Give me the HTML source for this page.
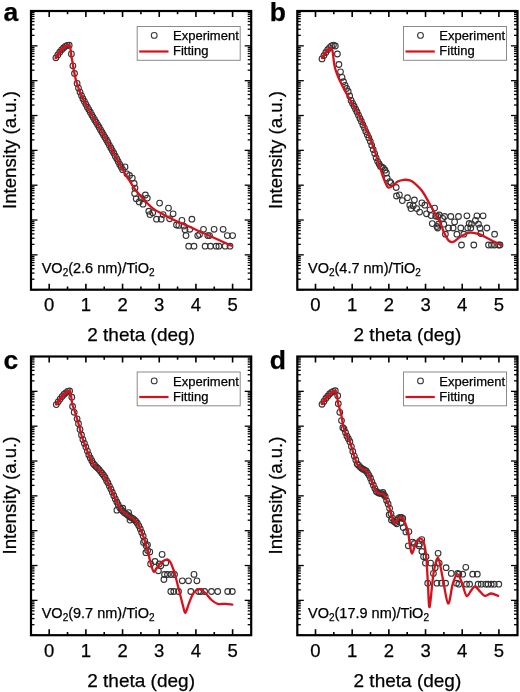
<!DOCTYPE html>
<html><head><meta charset="utf-8"><style>
html,body{margin:0;padding:0;background:#fff;}
svg{display:block;}
text{stroke:#000;stroke-width:0.25px;paint-order:stroke;}
</style></head><body>
<svg width="520" height="692" viewBox="0 0 520 692" font-family="'Liberation Sans', Arial, Helvetica, sans-serif" fill="#000">
<g transform="translate(0,0)">
<rect x="31.0" y="11.0" width="220.2" height="278.7" fill="none" stroke="#000" stroke-width="2.2"/>
<line x1="49.20" y1="289.7" x2="49.20" y2="283.7" stroke="#000" stroke-width="1.6"/>
<line x1="49.20" y1="11.0" x2="49.20" y2="17.0" stroke="#000" stroke-width="1.6"/>
<line x1="67.54" y1="289.7" x2="67.54" y2="286.5" stroke="#000" stroke-width="1.6"/>
<line x1="67.54" y1="11.0" x2="67.54" y2="14.2" stroke="#000" stroke-width="1.6"/>
<line x1="85.88" y1="289.7" x2="85.88" y2="283.7" stroke="#000" stroke-width="1.6"/>
<line x1="85.88" y1="11.0" x2="85.88" y2="17.0" stroke="#000" stroke-width="1.6"/>
<line x1="104.22" y1="289.7" x2="104.22" y2="286.5" stroke="#000" stroke-width="1.6"/>
<line x1="104.22" y1="11.0" x2="104.22" y2="14.2" stroke="#000" stroke-width="1.6"/>
<line x1="122.56" y1="289.7" x2="122.56" y2="283.7" stroke="#000" stroke-width="1.6"/>
<line x1="122.56" y1="11.0" x2="122.56" y2="17.0" stroke="#000" stroke-width="1.6"/>
<line x1="140.90" y1="289.7" x2="140.90" y2="286.5" stroke="#000" stroke-width="1.6"/>
<line x1="140.90" y1="11.0" x2="140.90" y2="14.2" stroke="#000" stroke-width="1.6"/>
<line x1="159.24" y1="289.7" x2="159.24" y2="283.7" stroke="#000" stroke-width="1.6"/>
<line x1="159.24" y1="11.0" x2="159.24" y2="17.0" stroke="#000" stroke-width="1.6"/>
<line x1="177.58" y1="289.7" x2="177.58" y2="286.5" stroke="#000" stroke-width="1.6"/>
<line x1="177.58" y1="11.0" x2="177.58" y2="14.2" stroke="#000" stroke-width="1.6"/>
<line x1="195.92" y1="289.7" x2="195.92" y2="283.7" stroke="#000" stroke-width="1.6"/>
<line x1="195.92" y1="11.0" x2="195.92" y2="17.0" stroke="#000" stroke-width="1.6"/>
<line x1="214.26" y1="289.7" x2="214.26" y2="286.5" stroke="#000" stroke-width="1.6"/>
<line x1="214.26" y1="11.0" x2="214.26" y2="14.2" stroke="#000" stroke-width="1.6"/>
<line x1="232.60" y1="289.7" x2="232.60" y2="283.7" stroke="#000" stroke-width="1.6"/>
<line x1="232.60" y1="11.0" x2="232.60" y2="17.0" stroke="#000" stroke-width="1.6"/>
<line x1="31.0" y1="289.70" x2="37.5" y2="289.70" stroke="#000" stroke-width="1.3"/>
<line x1="251.2" y1="289.70" x2="244.7" y2="289.70" stroke="#000" stroke-width="1.3"/>
<line x1="31.0" y1="279.21" x2="34.5" y2="279.21" stroke="#000" stroke-width="1.3"/>
<line x1="251.2" y1="279.21" x2="247.7" y2="279.21" stroke="#000" stroke-width="1.3"/>
<line x1="31.0" y1="273.08" x2="34.5" y2="273.08" stroke="#000" stroke-width="1.3"/>
<line x1="251.2" y1="273.08" x2="247.7" y2="273.08" stroke="#000" stroke-width="1.3"/>
<line x1="31.0" y1="268.73" x2="34.5" y2="268.73" stroke="#000" stroke-width="1.3"/>
<line x1="251.2" y1="268.73" x2="247.7" y2="268.73" stroke="#000" stroke-width="1.3"/>
<line x1="31.0" y1="265.35" x2="34.5" y2="265.35" stroke="#000" stroke-width="1.3"/>
<line x1="251.2" y1="265.35" x2="247.7" y2="265.35" stroke="#000" stroke-width="1.3"/>
<line x1="31.0" y1="262.59" x2="34.5" y2="262.59" stroke="#000" stroke-width="1.3"/>
<line x1="251.2" y1="262.59" x2="247.7" y2="262.59" stroke="#000" stroke-width="1.3"/>
<line x1="31.0" y1="260.26" x2="34.5" y2="260.26" stroke="#000" stroke-width="1.3"/>
<line x1="251.2" y1="260.26" x2="247.7" y2="260.26" stroke="#000" stroke-width="1.3"/>
<line x1="31.0" y1="258.24" x2="34.5" y2="258.24" stroke="#000" stroke-width="1.3"/>
<line x1="251.2" y1="258.24" x2="247.7" y2="258.24" stroke="#000" stroke-width="1.3"/>
<line x1="31.0" y1="256.46" x2="34.5" y2="256.46" stroke="#000" stroke-width="1.3"/>
<line x1="251.2" y1="256.46" x2="247.7" y2="256.46" stroke="#000" stroke-width="1.3"/>
<line x1="31.0" y1="254.86" x2="37.5" y2="254.86" stroke="#000" stroke-width="1.3"/>
<line x1="251.2" y1="254.86" x2="244.7" y2="254.86" stroke="#000" stroke-width="1.3"/>
<line x1="31.0" y1="244.38" x2="34.5" y2="244.38" stroke="#000" stroke-width="1.3"/>
<line x1="251.2" y1="244.38" x2="247.7" y2="244.38" stroke="#000" stroke-width="1.3"/>
<line x1="31.0" y1="238.24" x2="34.5" y2="238.24" stroke="#000" stroke-width="1.3"/>
<line x1="251.2" y1="238.24" x2="247.7" y2="238.24" stroke="#000" stroke-width="1.3"/>
<line x1="31.0" y1="233.89" x2="34.5" y2="233.89" stroke="#000" stroke-width="1.3"/>
<line x1="251.2" y1="233.89" x2="247.7" y2="233.89" stroke="#000" stroke-width="1.3"/>
<line x1="31.0" y1="230.51" x2="34.5" y2="230.51" stroke="#000" stroke-width="1.3"/>
<line x1="251.2" y1="230.51" x2="247.7" y2="230.51" stroke="#000" stroke-width="1.3"/>
<line x1="31.0" y1="227.75" x2="34.5" y2="227.75" stroke="#000" stroke-width="1.3"/>
<line x1="251.2" y1="227.75" x2="247.7" y2="227.75" stroke="#000" stroke-width="1.3"/>
<line x1="31.0" y1="225.42" x2="34.5" y2="225.42" stroke="#000" stroke-width="1.3"/>
<line x1="251.2" y1="225.42" x2="247.7" y2="225.42" stroke="#000" stroke-width="1.3"/>
<line x1="31.0" y1="223.40" x2="34.5" y2="223.40" stroke="#000" stroke-width="1.3"/>
<line x1="251.2" y1="223.40" x2="247.7" y2="223.40" stroke="#000" stroke-width="1.3"/>
<line x1="31.0" y1="221.62" x2="34.5" y2="221.62" stroke="#000" stroke-width="1.3"/>
<line x1="251.2" y1="221.62" x2="247.7" y2="221.62" stroke="#000" stroke-width="1.3"/>
<line x1="31.0" y1="220.02" x2="37.5" y2="220.02" stroke="#000" stroke-width="1.3"/>
<line x1="251.2" y1="220.02" x2="244.7" y2="220.02" stroke="#000" stroke-width="1.3"/>
<line x1="31.0" y1="209.54" x2="34.5" y2="209.54" stroke="#000" stroke-width="1.3"/>
<line x1="251.2" y1="209.54" x2="247.7" y2="209.54" stroke="#000" stroke-width="1.3"/>
<line x1="31.0" y1="203.40" x2="34.5" y2="203.40" stroke="#000" stroke-width="1.3"/>
<line x1="251.2" y1="203.40" x2="247.7" y2="203.40" stroke="#000" stroke-width="1.3"/>
<line x1="31.0" y1="199.05" x2="34.5" y2="199.05" stroke="#000" stroke-width="1.3"/>
<line x1="251.2" y1="199.05" x2="247.7" y2="199.05" stroke="#000" stroke-width="1.3"/>
<line x1="31.0" y1="195.67" x2="34.5" y2="195.67" stroke="#000" stroke-width="1.3"/>
<line x1="251.2" y1="195.67" x2="247.7" y2="195.67" stroke="#000" stroke-width="1.3"/>
<line x1="31.0" y1="192.92" x2="34.5" y2="192.92" stroke="#000" stroke-width="1.3"/>
<line x1="251.2" y1="192.92" x2="247.7" y2="192.92" stroke="#000" stroke-width="1.3"/>
<line x1="31.0" y1="190.58" x2="34.5" y2="190.58" stroke="#000" stroke-width="1.3"/>
<line x1="251.2" y1="190.58" x2="247.7" y2="190.58" stroke="#000" stroke-width="1.3"/>
<line x1="31.0" y1="188.56" x2="34.5" y2="188.56" stroke="#000" stroke-width="1.3"/>
<line x1="251.2" y1="188.56" x2="247.7" y2="188.56" stroke="#000" stroke-width="1.3"/>
<line x1="31.0" y1="186.78" x2="34.5" y2="186.78" stroke="#000" stroke-width="1.3"/>
<line x1="251.2" y1="186.78" x2="247.7" y2="186.78" stroke="#000" stroke-width="1.3"/>
<line x1="31.0" y1="185.19" x2="37.5" y2="185.19" stroke="#000" stroke-width="1.3"/>
<line x1="251.2" y1="185.19" x2="244.7" y2="185.19" stroke="#000" stroke-width="1.3"/>
<line x1="31.0" y1="174.70" x2="34.5" y2="174.70" stroke="#000" stroke-width="1.3"/>
<line x1="251.2" y1="174.70" x2="247.7" y2="174.70" stroke="#000" stroke-width="1.3"/>
<line x1="31.0" y1="168.57" x2="34.5" y2="168.57" stroke="#000" stroke-width="1.3"/>
<line x1="251.2" y1="168.57" x2="247.7" y2="168.57" stroke="#000" stroke-width="1.3"/>
<line x1="31.0" y1="164.21" x2="34.5" y2="164.21" stroke="#000" stroke-width="1.3"/>
<line x1="251.2" y1="164.21" x2="247.7" y2="164.21" stroke="#000" stroke-width="1.3"/>
<line x1="31.0" y1="160.84" x2="34.5" y2="160.84" stroke="#000" stroke-width="1.3"/>
<line x1="251.2" y1="160.84" x2="247.7" y2="160.84" stroke="#000" stroke-width="1.3"/>
<line x1="31.0" y1="158.08" x2="34.5" y2="158.08" stroke="#000" stroke-width="1.3"/>
<line x1="251.2" y1="158.08" x2="247.7" y2="158.08" stroke="#000" stroke-width="1.3"/>
<line x1="31.0" y1="155.75" x2="34.5" y2="155.75" stroke="#000" stroke-width="1.3"/>
<line x1="251.2" y1="155.75" x2="247.7" y2="155.75" stroke="#000" stroke-width="1.3"/>
<line x1="31.0" y1="153.73" x2="34.5" y2="153.73" stroke="#000" stroke-width="1.3"/>
<line x1="251.2" y1="153.73" x2="247.7" y2="153.73" stroke="#000" stroke-width="1.3"/>
<line x1="31.0" y1="151.94" x2="34.5" y2="151.94" stroke="#000" stroke-width="1.3"/>
<line x1="251.2" y1="151.94" x2="247.7" y2="151.94" stroke="#000" stroke-width="1.3"/>
<line x1="31.0" y1="150.35" x2="37.5" y2="150.35" stroke="#000" stroke-width="1.3"/>
<line x1="251.2" y1="150.35" x2="244.7" y2="150.35" stroke="#000" stroke-width="1.3"/>
<line x1="31.0" y1="139.86" x2="34.5" y2="139.86" stroke="#000" stroke-width="1.3"/>
<line x1="251.2" y1="139.86" x2="247.7" y2="139.86" stroke="#000" stroke-width="1.3"/>
<line x1="31.0" y1="133.73" x2="34.5" y2="133.73" stroke="#000" stroke-width="1.3"/>
<line x1="251.2" y1="133.73" x2="247.7" y2="133.73" stroke="#000" stroke-width="1.3"/>
<line x1="31.0" y1="129.38" x2="34.5" y2="129.38" stroke="#000" stroke-width="1.3"/>
<line x1="251.2" y1="129.38" x2="247.7" y2="129.38" stroke="#000" stroke-width="1.3"/>
<line x1="31.0" y1="126.00" x2="34.5" y2="126.00" stroke="#000" stroke-width="1.3"/>
<line x1="251.2" y1="126.00" x2="247.7" y2="126.00" stroke="#000" stroke-width="1.3"/>
<line x1="31.0" y1="123.24" x2="34.5" y2="123.24" stroke="#000" stroke-width="1.3"/>
<line x1="251.2" y1="123.24" x2="247.7" y2="123.24" stroke="#000" stroke-width="1.3"/>
<line x1="31.0" y1="120.91" x2="34.5" y2="120.91" stroke="#000" stroke-width="1.3"/>
<line x1="251.2" y1="120.91" x2="247.7" y2="120.91" stroke="#000" stroke-width="1.3"/>
<line x1="31.0" y1="118.89" x2="34.5" y2="118.89" stroke="#000" stroke-width="1.3"/>
<line x1="251.2" y1="118.89" x2="247.7" y2="118.89" stroke="#000" stroke-width="1.3"/>
<line x1="31.0" y1="117.11" x2="34.5" y2="117.11" stroke="#000" stroke-width="1.3"/>
<line x1="251.2" y1="117.11" x2="247.7" y2="117.11" stroke="#000" stroke-width="1.3"/>
<line x1="31.0" y1="115.51" x2="37.5" y2="115.51" stroke="#000" stroke-width="1.3"/>
<line x1="251.2" y1="115.51" x2="244.7" y2="115.51" stroke="#000" stroke-width="1.3"/>
<line x1="31.0" y1="105.03" x2="34.5" y2="105.03" stroke="#000" stroke-width="1.3"/>
<line x1="251.2" y1="105.03" x2="247.7" y2="105.03" stroke="#000" stroke-width="1.3"/>
<line x1="31.0" y1="98.89" x2="34.5" y2="98.89" stroke="#000" stroke-width="1.3"/>
<line x1="251.2" y1="98.89" x2="247.7" y2="98.89" stroke="#000" stroke-width="1.3"/>
<line x1="31.0" y1="94.54" x2="34.5" y2="94.54" stroke="#000" stroke-width="1.3"/>
<line x1="251.2" y1="94.54" x2="247.7" y2="94.54" stroke="#000" stroke-width="1.3"/>
<line x1="31.0" y1="91.16" x2="34.5" y2="91.16" stroke="#000" stroke-width="1.3"/>
<line x1="251.2" y1="91.16" x2="247.7" y2="91.16" stroke="#000" stroke-width="1.3"/>
<line x1="31.0" y1="88.40" x2="34.5" y2="88.40" stroke="#000" stroke-width="1.3"/>
<line x1="251.2" y1="88.40" x2="247.7" y2="88.40" stroke="#000" stroke-width="1.3"/>
<line x1="31.0" y1="86.07" x2="34.5" y2="86.07" stroke="#000" stroke-width="1.3"/>
<line x1="251.2" y1="86.07" x2="247.7" y2="86.07" stroke="#000" stroke-width="1.3"/>
<line x1="31.0" y1="84.05" x2="34.5" y2="84.05" stroke="#000" stroke-width="1.3"/>
<line x1="251.2" y1="84.05" x2="247.7" y2="84.05" stroke="#000" stroke-width="1.3"/>
<line x1="31.0" y1="82.27" x2="34.5" y2="82.27" stroke="#000" stroke-width="1.3"/>
<line x1="251.2" y1="82.27" x2="247.7" y2="82.27" stroke="#000" stroke-width="1.3"/>
<line x1="31.0" y1="80.68" x2="37.5" y2="80.68" stroke="#000" stroke-width="1.3"/>
<line x1="251.2" y1="80.68" x2="244.7" y2="80.68" stroke="#000" stroke-width="1.3"/>
<line x1="31.0" y1="70.19" x2="34.5" y2="70.19" stroke="#000" stroke-width="1.3"/>
<line x1="251.2" y1="70.19" x2="247.7" y2="70.19" stroke="#000" stroke-width="1.3"/>
<line x1="31.0" y1="64.05" x2="34.5" y2="64.05" stroke="#000" stroke-width="1.3"/>
<line x1="251.2" y1="64.05" x2="247.7" y2="64.05" stroke="#000" stroke-width="1.3"/>
<line x1="31.0" y1="59.70" x2="34.5" y2="59.70" stroke="#000" stroke-width="1.3"/>
<line x1="251.2" y1="59.70" x2="247.7" y2="59.70" stroke="#000" stroke-width="1.3"/>
<line x1="31.0" y1="56.32" x2="34.5" y2="56.32" stroke="#000" stroke-width="1.3"/>
<line x1="251.2" y1="56.32" x2="247.7" y2="56.32" stroke="#000" stroke-width="1.3"/>
<line x1="31.0" y1="53.57" x2="34.5" y2="53.57" stroke="#000" stroke-width="1.3"/>
<line x1="251.2" y1="53.57" x2="247.7" y2="53.57" stroke="#000" stroke-width="1.3"/>
<line x1="31.0" y1="51.23" x2="34.5" y2="51.23" stroke="#000" stroke-width="1.3"/>
<line x1="251.2" y1="51.23" x2="247.7" y2="51.23" stroke="#000" stroke-width="1.3"/>
<line x1="31.0" y1="49.21" x2="34.5" y2="49.21" stroke="#000" stroke-width="1.3"/>
<line x1="251.2" y1="49.21" x2="247.7" y2="49.21" stroke="#000" stroke-width="1.3"/>
<line x1="31.0" y1="47.43" x2="34.5" y2="47.43" stroke="#000" stroke-width="1.3"/>
<line x1="251.2" y1="47.43" x2="247.7" y2="47.43" stroke="#000" stroke-width="1.3"/>
<line x1="31.0" y1="45.84" x2="37.5" y2="45.84" stroke="#000" stroke-width="1.3"/>
<line x1="251.2" y1="45.84" x2="244.7" y2="45.84" stroke="#000" stroke-width="1.3"/>
<line x1="31.0" y1="35.35" x2="34.5" y2="35.35" stroke="#000" stroke-width="1.3"/>
<line x1="251.2" y1="35.35" x2="247.7" y2="35.35" stroke="#000" stroke-width="1.3"/>
<line x1="31.0" y1="29.22" x2="34.5" y2="29.22" stroke="#000" stroke-width="1.3"/>
<line x1="251.2" y1="29.22" x2="247.7" y2="29.22" stroke="#000" stroke-width="1.3"/>
<line x1="31.0" y1="24.86" x2="34.5" y2="24.86" stroke="#000" stroke-width="1.3"/>
<line x1="251.2" y1="24.86" x2="247.7" y2="24.86" stroke="#000" stroke-width="1.3"/>
<line x1="31.0" y1="21.49" x2="34.5" y2="21.49" stroke="#000" stroke-width="1.3"/>
<line x1="251.2" y1="21.49" x2="247.7" y2="21.49" stroke="#000" stroke-width="1.3"/>
<line x1="31.0" y1="18.73" x2="34.5" y2="18.73" stroke="#000" stroke-width="1.3"/>
<line x1="251.2" y1="18.73" x2="247.7" y2="18.73" stroke="#000" stroke-width="1.3"/>
<line x1="31.0" y1="16.40" x2="34.5" y2="16.40" stroke="#000" stroke-width="1.3"/>
<line x1="251.2" y1="16.40" x2="247.7" y2="16.40" stroke="#000" stroke-width="1.3"/>
<line x1="31.0" y1="14.38" x2="34.5" y2="14.38" stroke="#000" stroke-width="1.3"/>
<line x1="251.2" y1="14.38" x2="247.7" y2="14.38" stroke="#000" stroke-width="1.3"/>
<line x1="31.0" y1="12.59" x2="34.5" y2="12.59" stroke="#000" stroke-width="1.3"/>
<line x1="251.2" y1="12.59" x2="247.7" y2="12.59" stroke="#000" stroke-width="1.3"/>
<text x="49.20" y="311.3" font-size="18.5" text-anchor="middle">0</text>
<text x="85.88" y="311.3" font-size="18.5" text-anchor="middle">1</text>
<text x="122.56" y="311.3" font-size="18.5" text-anchor="middle">2</text>
<text x="159.24" y="311.3" font-size="18.5" text-anchor="middle">3</text>
<text x="195.92" y="311.3" font-size="18.5" text-anchor="middle">4</text>
<text x="232.60" y="311.3" font-size="18.5" text-anchor="middle">5</text>
<text x="141.1" y="341" font-size="19" text-anchor="middle">2 theta (deg)</text>
<text transform="translate(16,150) rotate(-90)" font-size="18.6" text-anchor="middle">Intensity (a.u.)</text>
<rect x="137.2" y="26.5" width="103" height="33.8" fill="#fff" stroke="#8a8a8a" stroke-width="1"/>
<circle cx="154.2" cy="35.4" r="2.9" fill="none" stroke="#3a3a3a" stroke-width="1.1"/>
<line x1="139.2" y1="51.5" x2="168.5" y2="51.5" stroke="#d5121c" stroke-width="2.2"/>
<text x="173" y="40" font-size="13">Experiment</text>
<text x="173" y="55.3" font-size="13">Fitting</text>
<text x="41.7" y="272.8" font-size="14.5">VO<tspan font-size="10" dy="3">2</tspan><tspan dy="-3">(2.6 nm)/TiO</tspan><tspan font-size="10" dy="3">2</tspan></text>
</g>
<g fill="none" stroke="#333" stroke-width="1.1"><circle cx="55.9" cy="57.8" r="2.85"/>
<circle cx="57.8" cy="54.9" r="2.85"/>
<circle cx="59.7" cy="52.2" r="2.85"/>
<circle cx="61.6" cy="49.8" r="2.85"/>
<circle cx="63.5" cy="48.0" r="2.85"/>
<circle cx="65.4" cy="46.3" r="2.85"/>
<circle cx="67.3" cy="45.4" r="2.85"/>
<circle cx="69.2" cy="45.2" r="2.85"/>
<circle cx="71.4" cy="53.9" r="2.85"/>
<circle cx="72.9" cy="65.8" r="2.85"/>
<circle cx="74.5" cy="73.5" r="2.85"/>
<circle cx="77.1" cy="83.4" r="2.85"/>
<circle cx="78.5" cy="88.1" r="2.85"/>
<circle cx="80.0" cy="92.1" r="2.85"/>
<circle cx="81.5" cy="95.6" r="2.85"/>
<circle cx="82.9" cy="98.7" r="2.85"/>
<circle cx="84.4" cy="101.4" r="2.85"/>
<circle cx="85.9" cy="104.3" r="2.85"/>
<circle cx="87.4" cy="107.2" r="2.85"/>
<circle cx="88.8" cy="109.6" r="2.85"/>
<circle cx="90.3" cy="112.2" r="2.85"/>
<circle cx="91.8" cy="114.9" r="2.85"/>
<circle cx="93.2" cy="117.3" r="2.85"/>
<circle cx="94.7" cy="119.9" r="2.85"/>
<circle cx="96.2" cy="122.3" r="2.85"/>
<circle cx="97.6" cy="124.8" r="2.85"/>
<circle cx="99.1" cy="127.2" r="2.85"/>
<circle cx="100.6" cy="129.9" r="2.85"/>
<circle cx="102.1" cy="132.5" r="2.85"/>
<circle cx="103.5" cy="134.9" r="2.85"/>
<circle cx="105.0" cy="137.5" r="2.85"/>
<circle cx="106.5" cy="140.0" r="2.85"/>
<circle cx="107.9" cy="142.4" r="2.85"/>
<circle cx="109.4" cy="145.3" r="2.85"/>
<circle cx="110.9" cy="148.0" r="2.85"/>
<circle cx="112.3" cy="150.6" r="2.85"/>
<circle cx="113.8" cy="153.2" r="2.85"/>
<circle cx="115.3" cy="156.2" r="2.85"/>
<circle cx="116.8" cy="158.8" r="2.85"/>
<circle cx="118.2" cy="161.6" r="2.85"/>
<circle cx="119.7" cy="164.4" r="2.85"/>
<circle cx="121.2" cy="167.0" r="2.85"/>
<circle cx="122.6" cy="169.7" r="2.85"/>
<circle cx="125.0" cy="166.9" r="2.85"/>
<circle cx="126.9" cy="173.8" r="2.85"/>
<circle cx="129.5" cy="175.5" r="2.85"/>
<circle cx="132.3" cy="178.1" r="2.85"/>
<circle cx="134.2" cy="183.5" r="2.85"/>
<circle cx="135.0" cy="188.1" r="2.85"/>
<circle cx="134.6" cy="193.5" r="2.85"/>
<circle cx="136.2" cy="198.8" r="2.85"/>
<circle cx="139.2" cy="201.9" r="2.85"/>
<circle cx="145.4" cy="195.0" r="2.85"/>
<circle cx="147.3" cy="198.1" r="2.85"/>
<circle cx="143.0" cy="204.2" r="2.85"/>
<circle cx="141.0" cy="198.0" r="2.85"/>
<circle cx="159.6" cy="203.1" r="2.85"/>
<circle cx="148.8" cy="211.2" r="2.85"/>
<circle cx="150.0" cy="214.6" r="2.85"/>
<circle cx="152.7" cy="212.7" r="2.85"/>
<circle cx="156.5" cy="219.2" r="2.85"/>
<circle cx="161.2" cy="219.2" r="2.85"/>
<circle cx="168.5" cy="208.1" r="2.85"/>
<circle cx="173.1" cy="213.8" r="2.85"/>
<circle cx="169.6" cy="218.8" r="2.85"/>
<circle cx="176.5" cy="225.0" r="2.85"/>
<circle cx="178.8" cy="225.4" r="2.85"/>
<circle cx="181.9" cy="220.4" r="2.85"/>
<circle cx="163.1" cy="214.6" r="2.85"/>
<circle cx="183.8" cy="226.1" r="2.85"/>
<circle cx="191.9" cy="219.2" r="2.85"/>
<circle cx="185.0" cy="229.8" r="2.85"/>
<circle cx="188.7" cy="246.2" r="2.85"/>
<circle cx="194.0" cy="246.2" r="2.85"/>
<circle cx="205.1" cy="246.2" r="2.85"/>
<circle cx="210.4" cy="246.2" r="2.85"/>
<circle cx="216.2" cy="246.2" r="2.85"/>
<circle cx="218.9" cy="246.2" r="2.85"/>
<circle cx="225.2" cy="246.2" r="2.85"/>
<circle cx="230.0" cy="246.2" r="2.85"/>
<circle cx="186.0" cy="235.6" r="2.85"/>
<circle cx="197.7" cy="235.6" r="2.85"/>
<circle cx="207.8" cy="235.6" r="2.85"/>
<circle cx="227.3" cy="235.6" r="2.85"/>
<circle cx="232.6" cy="235.6" r="2.85"/>
<circle cx="209.5" cy="235.6" r="2.85"/>
<circle cx="199.5" cy="234.6" r="2.85"/>
<circle cx="189.8" cy="229.3" r="2.85"/>
<circle cx="203.5" cy="229.3" r="2.85"/>
<circle cx="214.1" cy="229.3" r="2.85"/>
<circle cx="223.1" cy="229.3" r="2.85"/></g>
<path fill="none" stroke="#d5121c" stroke-width="2.3" stroke-linejoin="round" stroke-linecap="round" d="M55.90,57.80 C56.40,57.03 57.85,54.65 58.90,53.20 C59.95,51.75 61.12,50.25 62.20,49.10 C63.28,47.95 64.40,46.95 65.40,46.30 C66.40,45.65 67.50,45.25 68.20,45.20 C68.90,45.15 69.18,45.20 69.60,46.00 C70.02,46.80 70.40,48.25 70.70,50.00 C71.00,51.75 71.10,54.50 71.40,56.50 C71.70,58.50 72.10,59.75 72.50,62.00 C72.90,64.25 73.23,67.00 73.80,70.00 C74.37,73.00 75.27,77.50 75.90,80.00 C76.53,82.50 77.07,83.33 77.60,85.00 C78.13,86.67 78.50,88.33 79.10,90.00 C79.70,91.67 80.45,93.33 81.20,95.00 C81.95,96.67 82.77,98.33 83.60,100.00 C84.43,101.67 85.30,103.33 86.20,105.00 C87.10,106.67 88.05,108.33 89.00,110.00 C89.95,111.67 90.93,113.33 91.90,115.00 C92.87,116.67 93.82,118.33 94.80,120.00 C95.78,121.67 96.82,123.33 97.80,125.00 C98.78,126.67 99.73,128.33 100.70,130.00 C101.67,131.67 102.63,133.33 103.60,135.00 C104.57,136.67 105.55,138.33 106.50,140.00 C107.45,141.67 108.38,143.33 109.30,145.00 C110.22,146.67 111.10,148.33 112.00,150.00 C112.90,151.67 113.80,153.33 114.70,155.00 C115.60,156.67 116.50,158.33 117.40,160.00 C118.30,161.67 119.18,163.33 120.10,165.00 C121.02,166.67 121.93,168.33 122.90,170.00 C123.87,171.67 124.88,173.33 125.90,175.00 C126.92,176.67 127.93,178.33 129.00,180.00 C130.07,181.67 131.43,183.63 132.30,185.00 C133.17,186.37 133.07,186.65 134.20,188.20 C135.33,189.75 137.37,192.25 139.10,194.30 C140.83,196.35 142.65,198.45 144.60,200.50 C146.55,202.55 149.07,205.03 150.80,206.60 C152.53,208.17 152.97,208.63 155.00,209.90 C157.03,211.17 160.33,212.77 163.00,214.20 C165.67,215.63 168.33,217.17 171.00,218.50 C173.67,219.83 176.33,221.03 179.00,222.20 C181.67,223.37 183.50,223.95 187.00,225.50 C190.50,227.05 195.33,229.37 200.00,231.50 C204.67,233.63 209.73,235.93 215.00,238.30 C220.27,240.67 228.83,244.47 231.60,245.70"/>
<path fill="none" stroke="#d5121c" stroke-width="3.0" stroke-linejoin="round" stroke-linecap="round" d="M55.90,57.80 C56.40,57.03 57.85,54.65 58.90,53.20 C59.95,51.75 61.12,50.25 62.20,49.10 C63.28,47.95 64.40,46.95 65.40,46.30 C66.40,45.65 67.73,45.38 68.20,45.20"/>
<text x="3.5" y="20.8" font-size="26.5" font-weight="bold">a</text>
<g transform="translate(266.3,0)">
<rect x="31.0" y="11.0" width="220.2" height="278.7" fill="none" stroke="#000" stroke-width="2.2"/>
<line x1="49.20" y1="289.7" x2="49.20" y2="283.7" stroke="#000" stroke-width="1.6"/>
<line x1="49.20" y1="11.0" x2="49.20" y2="17.0" stroke="#000" stroke-width="1.6"/>
<line x1="67.54" y1="289.7" x2="67.54" y2="286.5" stroke="#000" stroke-width="1.6"/>
<line x1="67.54" y1="11.0" x2="67.54" y2="14.2" stroke="#000" stroke-width="1.6"/>
<line x1="85.88" y1="289.7" x2="85.88" y2="283.7" stroke="#000" stroke-width="1.6"/>
<line x1="85.88" y1="11.0" x2="85.88" y2="17.0" stroke="#000" stroke-width="1.6"/>
<line x1="104.22" y1="289.7" x2="104.22" y2="286.5" stroke="#000" stroke-width="1.6"/>
<line x1="104.22" y1="11.0" x2="104.22" y2="14.2" stroke="#000" stroke-width="1.6"/>
<line x1="122.56" y1="289.7" x2="122.56" y2="283.7" stroke="#000" stroke-width="1.6"/>
<line x1="122.56" y1="11.0" x2="122.56" y2="17.0" stroke="#000" stroke-width="1.6"/>
<line x1="140.90" y1="289.7" x2="140.90" y2="286.5" stroke="#000" stroke-width="1.6"/>
<line x1="140.90" y1="11.0" x2="140.90" y2="14.2" stroke="#000" stroke-width="1.6"/>
<line x1="159.24" y1="289.7" x2="159.24" y2="283.7" stroke="#000" stroke-width="1.6"/>
<line x1="159.24" y1="11.0" x2="159.24" y2="17.0" stroke="#000" stroke-width="1.6"/>
<line x1="177.58" y1="289.7" x2="177.58" y2="286.5" stroke="#000" stroke-width="1.6"/>
<line x1="177.58" y1="11.0" x2="177.58" y2="14.2" stroke="#000" stroke-width="1.6"/>
<line x1="195.92" y1="289.7" x2="195.92" y2="283.7" stroke="#000" stroke-width="1.6"/>
<line x1="195.92" y1="11.0" x2="195.92" y2="17.0" stroke="#000" stroke-width="1.6"/>
<line x1="214.26" y1="289.7" x2="214.26" y2="286.5" stroke="#000" stroke-width="1.6"/>
<line x1="214.26" y1="11.0" x2="214.26" y2="14.2" stroke="#000" stroke-width="1.6"/>
<line x1="232.60" y1="289.7" x2="232.60" y2="283.7" stroke="#000" stroke-width="1.6"/>
<line x1="232.60" y1="11.0" x2="232.60" y2="17.0" stroke="#000" stroke-width="1.6"/>
<line x1="31.0" y1="289.70" x2="37.5" y2="289.70" stroke="#000" stroke-width="1.3"/>
<line x1="251.2" y1="289.70" x2="244.7" y2="289.70" stroke="#000" stroke-width="1.3"/>
<line x1="31.0" y1="279.21" x2="34.5" y2="279.21" stroke="#000" stroke-width="1.3"/>
<line x1="251.2" y1="279.21" x2="247.7" y2="279.21" stroke="#000" stroke-width="1.3"/>
<line x1="31.0" y1="273.08" x2="34.5" y2="273.08" stroke="#000" stroke-width="1.3"/>
<line x1="251.2" y1="273.08" x2="247.7" y2="273.08" stroke="#000" stroke-width="1.3"/>
<line x1="31.0" y1="268.73" x2="34.5" y2="268.73" stroke="#000" stroke-width="1.3"/>
<line x1="251.2" y1="268.73" x2="247.7" y2="268.73" stroke="#000" stroke-width="1.3"/>
<line x1="31.0" y1="265.35" x2="34.5" y2="265.35" stroke="#000" stroke-width="1.3"/>
<line x1="251.2" y1="265.35" x2="247.7" y2="265.35" stroke="#000" stroke-width="1.3"/>
<line x1="31.0" y1="262.59" x2="34.5" y2="262.59" stroke="#000" stroke-width="1.3"/>
<line x1="251.2" y1="262.59" x2="247.7" y2="262.59" stroke="#000" stroke-width="1.3"/>
<line x1="31.0" y1="260.26" x2="34.5" y2="260.26" stroke="#000" stroke-width="1.3"/>
<line x1="251.2" y1="260.26" x2="247.7" y2="260.26" stroke="#000" stroke-width="1.3"/>
<line x1="31.0" y1="258.24" x2="34.5" y2="258.24" stroke="#000" stroke-width="1.3"/>
<line x1="251.2" y1="258.24" x2="247.7" y2="258.24" stroke="#000" stroke-width="1.3"/>
<line x1="31.0" y1="256.46" x2="34.5" y2="256.46" stroke="#000" stroke-width="1.3"/>
<line x1="251.2" y1="256.46" x2="247.7" y2="256.46" stroke="#000" stroke-width="1.3"/>
<line x1="31.0" y1="254.86" x2="37.5" y2="254.86" stroke="#000" stroke-width="1.3"/>
<line x1="251.2" y1="254.86" x2="244.7" y2="254.86" stroke="#000" stroke-width="1.3"/>
<line x1="31.0" y1="244.38" x2="34.5" y2="244.38" stroke="#000" stroke-width="1.3"/>
<line x1="251.2" y1="244.38" x2="247.7" y2="244.38" stroke="#000" stroke-width="1.3"/>
<line x1="31.0" y1="238.24" x2="34.5" y2="238.24" stroke="#000" stroke-width="1.3"/>
<line x1="251.2" y1="238.24" x2="247.7" y2="238.24" stroke="#000" stroke-width="1.3"/>
<line x1="31.0" y1="233.89" x2="34.5" y2="233.89" stroke="#000" stroke-width="1.3"/>
<line x1="251.2" y1="233.89" x2="247.7" y2="233.89" stroke="#000" stroke-width="1.3"/>
<line x1="31.0" y1="230.51" x2="34.5" y2="230.51" stroke="#000" stroke-width="1.3"/>
<line x1="251.2" y1="230.51" x2="247.7" y2="230.51" stroke="#000" stroke-width="1.3"/>
<line x1="31.0" y1="227.75" x2="34.5" y2="227.75" stroke="#000" stroke-width="1.3"/>
<line x1="251.2" y1="227.75" x2="247.7" y2="227.75" stroke="#000" stroke-width="1.3"/>
<line x1="31.0" y1="225.42" x2="34.5" y2="225.42" stroke="#000" stroke-width="1.3"/>
<line x1="251.2" y1="225.42" x2="247.7" y2="225.42" stroke="#000" stroke-width="1.3"/>
<line x1="31.0" y1="223.40" x2="34.5" y2="223.40" stroke="#000" stroke-width="1.3"/>
<line x1="251.2" y1="223.40" x2="247.7" y2="223.40" stroke="#000" stroke-width="1.3"/>
<line x1="31.0" y1="221.62" x2="34.5" y2="221.62" stroke="#000" stroke-width="1.3"/>
<line x1="251.2" y1="221.62" x2="247.7" y2="221.62" stroke="#000" stroke-width="1.3"/>
<line x1="31.0" y1="220.02" x2="37.5" y2="220.02" stroke="#000" stroke-width="1.3"/>
<line x1="251.2" y1="220.02" x2="244.7" y2="220.02" stroke="#000" stroke-width="1.3"/>
<line x1="31.0" y1="209.54" x2="34.5" y2="209.54" stroke="#000" stroke-width="1.3"/>
<line x1="251.2" y1="209.54" x2="247.7" y2="209.54" stroke="#000" stroke-width="1.3"/>
<line x1="31.0" y1="203.40" x2="34.5" y2="203.40" stroke="#000" stroke-width="1.3"/>
<line x1="251.2" y1="203.40" x2="247.7" y2="203.40" stroke="#000" stroke-width="1.3"/>
<line x1="31.0" y1="199.05" x2="34.5" y2="199.05" stroke="#000" stroke-width="1.3"/>
<line x1="251.2" y1="199.05" x2="247.7" y2="199.05" stroke="#000" stroke-width="1.3"/>
<line x1="31.0" y1="195.67" x2="34.5" y2="195.67" stroke="#000" stroke-width="1.3"/>
<line x1="251.2" y1="195.67" x2="247.7" y2="195.67" stroke="#000" stroke-width="1.3"/>
<line x1="31.0" y1="192.92" x2="34.5" y2="192.92" stroke="#000" stroke-width="1.3"/>
<line x1="251.2" y1="192.92" x2="247.7" y2="192.92" stroke="#000" stroke-width="1.3"/>
<line x1="31.0" y1="190.58" x2="34.5" y2="190.58" stroke="#000" stroke-width="1.3"/>
<line x1="251.2" y1="190.58" x2="247.7" y2="190.58" stroke="#000" stroke-width="1.3"/>
<line x1="31.0" y1="188.56" x2="34.5" y2="188.56" stroke="#000" stroke-width="1.3"/>
<line x1="251.2" y1="188.56" x2="247.7" y2="188.56" stroke="#000" stroke-width="1.3"/>
<line x1="31.0" y1="186.78" x2="34.5" y2="186.78" stroke="#000" stroke-width="1.3"/>
<line x1="251.2" y1="186.78" x2="247.7" y2="186.78" stroke="#000" stroke-width="1.3"/>
<line x1="31.0" y1="185.19" x2="37.5" y2="185.19" stroke="#000" stroke-width="1.3"/>
<line x1="251.2" y1="185.19" x2="244.7" y2="185.19" stroke="#000" stroke-width="1.3"/>
<line x1="31.0" y1="174.70" x2="34.5" y2="174.70" stroke="#000" stroke-width="1.3"/>
<line x1="251.2" y1="174.70" x2="247.7" y2="174.70" stroke="#000" stroke-width="1.3"/>
<line x1="31.0" y1="168.57" x2="34.5" y2="168.57" stroke="#000" stroke-width="1.3"/>
<line x1="251.2" y1="168.57" x2="247.7" y2="168.57" stroke="#000" stroke-width="1.3"/>
<line x1="31.0" y1="164.21" x2="34.5" y2="164.21" stroke="#000" stroke-width="1.3"/>
<line x1="251.2" y1="164.21" x2="247.7" y2="164.21" stroke="#000" stroke-width="1.3"/>
<line x1="31.0" y1="160.84" x2="34.5" y2="160.84" stroke="#000" stroke-width="1.3"/>
<line x1="251.2" y1="160.84" x2="247.7" y2="160.84" stroke="#000" stroke-width="1.3"/>
<line x1="31.0" y1="158.08" x2="34.5" y2="158.08" stroke="#000" stroke-width="1.3"/>
<line x1="251.2" y1="158.08" x2="247.7" y2="158.08" stroke="#000" stroke-width="1.3"/>
<line x1="31.0" y1="155.75" x2="34.5" y2="155.75" stroke="#000" stroke-width="1.3"/>
<line x1="251.2" y1="155.75" x2="247.7" y2="155.75" stroke="#000" stroke-width="1.3"/>
<line x1="31.0" y1="153.73" x2="34.5" y2="153.73" stroke="#000" stroke-width="1.3"/>
<line x1="251.2" y1="153.73" x2="247.7" y2="153.73" stroke="#000" stroke-width="1.3"/>
<line x1="31.0" y1="151.94" x2="34.5" y2="151.94" stroke="#000" stroke-width="1.3"/>
<line x1="251.2" y1="151.94" x2="247.7" y2="151.94" stroke="#000" stroke-width="1.3"/>
<line x1="31.0" y1="150.35" x2="37.5" y2="150.35" stroke="#000" stroke-width="1.3"/>
<line x1="251.2" y1="150.35" x2="244.7" y2="150.35" stroke="#000" stroke-width="1.3"/>
<line x1="31.0" y1="139.86" x2="34.5" y2="139.86" stroke="#000" stroke-width="1.3"/>
<line x1="251.2" y1="139.86" x2="247.7" y2="139.86" stroke="#000" stroke-width="1.3"/>
<line x1="31.0" y1="133.73" x2="34.5" y2="133.73" stroke="#000" stroke-width="1.3"/>
<line x1="251.2" y1="133.73" x2="247.7" y2="133.73" stroke="#000" stroke-width="1.3"/>
<line x1="31.0" y1="129.38" x2="34.5" y2="129.38" stroke="#000" stroke-width="1.3"/>
<line x1="251.2" y1="129.38" x2="247.7" y2="129.38" stroke="#000" stroke-width="1.3"/>
<line x1="31.0" y1="126.00" x2="34.5" y2="126.00" stroke="#000" stroke-width="1.3"/>
<line x1="251.2" y1="126.00" x2="247.7" y2="126.00" stroke="#000" stroke-width="1.3"/>
<line x1="31.0" y1="123.24" x2="34.5" y2="123.24" stroke="#000" stroke-width="1.3"/>
<line x1="251.2" y1="123.24" x2="247.7" y2="123.24" stroke="#000" stroke-width="1.3"/>
<line x1="31.0" y1="120.91" x2="34.5" y2="120.91" stroke="#000" stroke-width="1.3"/>
<line x1="251.2" y1="120.91" x2="247.7" y2="120.91" stroke="#000" stroke-width="1.3"/>
<line x1="31.0" y1="118.89" x2="34.5" y2="118.89" stroke="#000" stroke-width="1.3"/>
<line x1="251.2" y1="118.89" x2="247.7" y2="118.89" stroke="#000" stroke-width="1.3"/>
<line x1="31.0" y1="117.11" x2="34.5" y2="117.11" stroke="#000" stroke-width="1.3"/>
<line x1="251.2" y1="117.11" x2="247.7" y2="117.11" stroke="#000" stroke-width="1.3"/>
<line x1="31.0" y1="115.51" x2="37.5" y2="115.51" stroke="#000" stroke-width="1.3"/>
<line x1="251.2" y1="115.51" x2="244.7" y2="115.51" stroke="#000" stroke-width="1.3"/>
<line x1="31.0" y1="105.03" x2="34.5" y2="105.03" stroke="#000" stroke-width="1.3"/>
<line x1="251.2" y1="105.03" x2="247.7" y2="105.03" stroke="#000" stroke-width="1.3"/>
<line x1="31.0" y1="98.89" x2="34.5" y2="98.89" stroke="#000" stroke-width="1.3"/>
<line x1="251.2" y1="98.89" x2="247.7" y2="98.89" stroke="#000" stroke-width="1.3"/>
<line x1="31.0" y1="94.54" x2="34.5" y2="94.54" stroke="#000" stroke-width="1.3"/>
<line x1="251.2" y1="94.54" x2="247.7" y2="94.54" stroke="#000" stroke-width="1.3"/>
<line x1="31.0" y1="91.16" x2="34.5" y2="91.16" stroke="#000" stroke-width="1.3"/>
<line x1="251.2" y1="91.16" x2="247.7" y2="91.16" stroke="#000" stroke-width="1.3"/>
<line x1="31.0" y1="88.40" x2="34.5" y2="88.40" stroke="#000" stroke-width="1.3"/>
<line x1="251.2" y1="88.40" x2="247.7" y2="88.40" stroke="#000" stroke-width="1.3"/>
<line x1="31.0" y1="86.07" x2="34.5" y2="86.07" stroke="#000" stroke-width="1.3"/>
<line x1="251.2" y1="86.07" x2="247.7" y2="86.07" stroke="#000" stroke-width="1.3"/>
<line x1="31.0" y1="84.05" x2="34.5" y2="84.05" stroke="#000" stroke-width="1.3"/>
<line x1="251.2" y1="84.05" x2="247.7" y2="84.05" stroke="#000" stroke-width="1.3"/>
<line x1="31.0" y1="82.27" x2="34.5" y2="82.27" stroke="#000" stroke-width="1.3"/>
<line x1="251.2" y1="82.27" x2="247.7" y2="82.27" stroke="#000" stroke-width="1.3"/>
<line x1="31.0" y1="80.68" x2="37.5" y2="80.68" stroke="#000" stroke-width="1.3"/>
<line x1="251.2" y1="80.68" x2="244.7" y2="80.68" stroke="#000" stroke-width="1.3"/>
<line x1="31.0" y1="70.19" x2="34.5" y2="70.19" stroke="#000" stroke-width="1.3"/>
<line x1="251.2" y1="70.19" x2="247.7" y2="70.19" stroke="#000" stroke-width="1.3"/>
<line x1="31.0" y1="64.05" x2="34.5" y2="64.05" stroke="#000" stroke-width="1.3"/>
<line x1="251.2" y1="64.05" x2="247.7" y2="64.05" stroke="#000" stroke-width="1.3"/>
<line x1="31.0" y1="59.70" x2="34.5" y2="59.70" stroke="#000" stroke-width="1.3"/>
<line x1="251.2" y1="59.70" x2="247.7" y2="59.70" stroke="#000" stroke-width="1.3"/>
<line x1="31.0" y1="56.32" x2="34.5" y2="56.32" stroke="#000" stroke-width="1.3"/>
<line x1="251.2" y1="56.32" x2="247.7" y2="56.32" stroke="#000" stroke-width="1.3"/>
<line x1="31.0" y1="53.57" x2="34.5" y2="53.57" stroke="#000" stroke-width="1.3"/>
<line x1="251.2" y1="53.57" x2="247.7" y2="53.57" stroke="#000" stroke-width="1.3"/>
<line x1="31.0" y1="51.23" x2="34.5" y2="51.23" stroke="#000" stroke-width="1.3"/>
<line x1="251.2" y1="51.23" x2="247.7" y2="51.23" stroke="#000" stroke-width="1.3"/>
<line x1="31.0" y1="49.21" x2="34.5" y2="49.21" stroke="#000" stroke-width="1.3"/>
<line x1="251.2" y1="49.21" x2="247.7" y2="49.21" stroke="#000" stroke-width="1.3"/>
<line x1="31.0" y1="47.43" x2="34.5" y2="47.43" stroke="#000" stroke-width="1.3"/>
<line x1="251.2" y1="47.43" x2="247.7" y2="47.43" stroke="#000" stroke-width="1.3"/>
<line x1="31.0" y1="45.84" x2="37.5" y2="45.84" stroke="#000" stroke-width="1.3"/>
<line x1="251.2" y1="45.84" x2="244.7" y2="45.84" stroke="#000" stroke-width="1.3"/>
<line x1="31.0" y1="35.35" x2="34.5" y2="35.35" stroke="#000" stroke-width="1.3"/>
<line x1="251.2" y1="35.35" x2="247.7" y2="35.35" stroke="#000" stroke-width="1.3"/>
<line x1="31.0" y1="29.22" x2="34.5" y2="29.22" stroke="#000" stroke-width="1.3"/>
<line x1="251.2" y1="29.22" x2="247.7" y2="29.22" stroke="#000" stroke-width="1.3"/>
<line x1="31.0" y1="24.86" x2="34.5" y2="24.86" stroke="#000" stroke-width="1.3"/>
<line x1="251.2" y1="24.86" x2="247.7" y2="24.86" stroke="#000" stroke-width="1.3"/>
<line x1="31.0" y1="21.49" x2="34.5" y2="21.49" stroke="#000" stroke-width="1.3"/>
<line x1="251.2" y1="21.49" x2="247.7" y2="21.49" stroke="#000" stroke-width="1.3"/>
<line x1="31.0" y1="18.73" x2="34.5" y2="18.73" stroke="#000" stroke-width="1.3"/>
<line x1="251.2" y1="18.73" x2="247.7" y2="18.73" stroke="#000" stroke-width="1.3"/>
<line x1="31.0" y1="16.40" x2="34.5" y2="16.40" stroke="#000" stroke-width="1.3"/>
<line x1="251.2" y1="16.40" x2="247.7" y2="16.40" stroke="#000" stroke-width="1.3"/>
<line x1="31.0" y1="14.38" x2="34.5" y2="14.38" stroke="#000" stroke-width="1.3"/>
<line x1="251.2" y1="14.38" x2="247.7" y2="14.38" stroke="#000" stroke-width="1.3"/>
<line x1="31.0" y1="12.59" x2="34.5" y2="12.59" stroke="#000" stroke-width="1.3"/>
<line x1="251.2" y1="12.59" x2="247.7" y2="12.59" stroke="#000" stroke-width="1.3"/>
<text x="49.20" y="311.3" font-size="18.5" text-anchor="middle">0</text>
<text x="85.88" y="311.3" font-size="18.5" text-anchor="middle">1</text>
<text x="122.56" y="311.3" font-size="18.5" text-anchor="middle">2</text>
<text x="159.24" y="311.3" font-size="18.5" text-anchor="middle">3</text>
<text x="195.92" y="311.3" font-size="18.5" text-anchor="middle">4</text>
<text x="232.60" y="311.3" font-size="18.5" text-anchor="middle">5</text>
<text x="141.1" y="341" font-size="19" text-anchor="middle">2 theta (deg)</text>
<text transform="translate(16,150) rotate(-90)" font-size="18.6" text-anchor="middle">Intensity (a.u.)</text>
<rect x="137.2" y="26.5" width="103" height="33.8" fill="#fff" stroke="#8a8a8a" stroke-width="1"/>
<circle cx="154.2" cy="35.4" r="2.9" fill="none" stroke="#3a3a3a" stroke-width="1.1"/>
<line x1="139.2" y1="51.5" x2="168.5" y2="51.5" stroke="#d5121c" stroke-width="2.2"/>
<text x="173" y="40" font-size="13">Experiment</text>
<text x="173" y="55.3" font-size="13">Fitting</text>
<text x="41.7" y="272.8" font-size="14.5">VO<tspan font-size="10" dy="3">2</tspan><tspan dy="-3">(4.7 nm)/TiO</tspan><tspan font-size="10" dy="3">2</tspan></text>
</g>
<g fill="none" stroke="#333" stroke-width="1.1"><circle cx="322.0" cy="58.9" r="2.85"/>
<circle cx="323.9" cy="55.6" r="2.85"/>
<circle cx="325.8" cy="52.5" r="2.85"/>
<circle cx="327.7" cy="49.7" r="2.85"/>
<circle cx="329.6" cy="47.6" r="2.85"/>
<circle cx="331.5" cy="45.9" r="2.85"/>
<circle cx="333.4" cy="45.1" r="2.85"/>
<circle cx="335.3" cy="46.0" r="2.85"/>
<circle cx="337.4" cy="54.0" r="2.85"/>
<circle cx="338.9" cy="64.5" r="2.85"/>
<circle cx="340.5" cy="71.8" r="2.85"/>
<circle cx="342.0" cy="77.4" r="2.85"/>
<circle cx="343.5" cy="81.7" r="2.85"/>
<circle cx="345.1" cy="85.4" r="2.85"/>
<circle cx="346.6" cy="88.5" r="2.85"/>
<circle cx="348.2" cy="91.5" r="2.85"/>
<circle cx="349.7" cy="96.0" r="2.85"/>
<circle cx="351.1" cy="100.4" r="2.85"/>
<circle cx="352.6" cy="103.4" r="2.85"/>
<circle cx="354.1" cy="106.2" r="2.85"/>
<circle cx="355.6" cy="109.2" r="2.85"/>
<circle cx="357.0" cy="112.0" r="2.85"/>
<circle cx="358.5" cy="115.2" r="2.85"/>
<circle cx="360.0" cy="118.4" r="2.85"/>
<circle cx="361.4" cy="121.5" r="2.85"/>
<circle cx="362.9" cy="125.0" r="2.85"/>
<circle cx="364.4" cy="128.1" r="2.85"/>
<circle cx="365.8" cy="131.6" r="2.85"/>
<circle cx="367.3" cy="134.7" r="2.85"/>
<circle cx="368.8" cy="137.9" r="2.85"/>
<circle cx="370.3" cy="141.3" r="2.85"/>
<circle cx="371.7" cy="145.3" r="2.85"/>
<circle cx="373.2" cy="149.6" r="2.85"/>
<circle cx="374.7" cy="153.6" r="2.85"/>
<circle cx="376.1" cy="157.8" r="2.85"/>
<circle cx="377.6" cy="161.3" r="2.85"/>
<circle cx="379.1" cy="164.0" r="2.85"/>
<circle cx="380.5" cy="166.4" r="2.85"/>
<circle cx="382.0" cy="167.1" r="2.85"/>
<circle cx="383.5" cy="168.1" r="2.85"/>
<circle cx="385.0" cy="170.2" r="2.85"/>
<circle cx="386.4" cy="173.0" r="2.85"/>
<circle cx="387.2" cy="178.2" r="2.85"/>
<circle cx="389.7" cy="181.6" r="2.85"/>
<circle cx="390.9" cy="182.8" r="2.85"/>
<circle cx="396.2" cy="187.5" r="2.85"/>
<circle cx="396.5" cy="196.0" r="2.85"/>
<circle cx="399.4" cy="194.8" r="2.85"/>
<circle cx="407.5" cy="197.7" r="2.85"/>
<circle cx="402.3" cy="200.6" r="2.85"/>
<circle cx="409.8" cy="205.2" r="2.85"/>
<circle cx="411.0" cy="208.6" r="2.85"/>
<circle cx="414.4" cy="200.0" r="2.85"/>
<circle cx="413.3" cy="205.8" r="2.85"/>
<circle cx="416.7" cy="208.6" r="2.85"/>
<circle cx="419.6" cy="212.1" r="2.85"/>
<circle cx="421.9" cy="202.9" r="2.85"/>
<circle cx="424.8" cy="205.2" r="2.85"/>
<circle cx="426.5" cy="213.8" r="2.85"/>
<circle cx="430.0" cy="209.8" r="2.85"/>
<circle cx="431.1" cy="215.6" r="2.85"/>
<circle cx="434.6" cy="208.1" r="2.85"/>
<circle cx="435.7" cy="216.1" r="2.85"/>
<circle cx="432.3" cy="223.6" r="2.85"/>
<circle cx="436.9" cy="226.5" r="2.85"/>
<circle cx="442.7" cy="218.4" r="2.85"/>
<circle cx="439.2" cy="215.0" r="2.85"/>
<circle cx="437.7" cy="216.5" r="2.85"/>
<circle cx="444.6" cy="216.5" r="2.85"/>
<circle cx="450.8" cy="216.5" r="2.85"/>
<circle cx="458.5" cy="216.5" r="2.85"/>
<circle cx="466.9" cy="215.8" r="2.85"/>
<circle cx="476.9" cy="215.8" r="2.85"/>
<circle cx="483.1" cy="215.8" r="2.85"/>
<circle cx="438.5" cy="224.2" r="2.85"/>
<circle cx="443.8" cy="224.2" r="2.85"/>
<circle cx="454.6" cy="221.9" r="2.85"/>
<circle cx="469.2" cy="223.5" r="2.85"/>
<circle cx="471.5" cy="224.2" r="2.85"/>
<circle cx="475.4" cy="220.4" r="2.85"/>
<circle cx="478.5" cy="224.2" r="2.85"/>
<circle cx="437.7" cy="228.0" r="2.85"/>
<circle cx="448.5" cy="228.0" r="2.85"/>
<circle cx="453.1" cy="228.0" r="2.85"/>
<circle cx="460.8" cy="228.0" r="2.85"/>
<circle cx="467.7" cy="228.0" r="2.85"/>
<circle cx="470.8" cy="228.0" r="2.85"/>
<circle cx="480.0" cy="228.0" r="2.85"/>
<circle cx="486.9" cy="228.0" r="2.85"/>
<circle cx="445.4" cy="234.2" r="2.85"/>
<circle cx="456.9" cy="234.2" r="2.85"/>
<circle cx="463.8" cy="234.2" r="2.85"/>
<circle cx="480.8" cy="233.5" r="2.85"/>
<circle cx="494.6" cy="234.2" r="2.85"/>
<circle cx="461.5" cy="245.0" r="2.85"/>
<circle cx="473.8" cy="245.0" r="2.85"/>
<circle cx="488.5" cy="245.0" r="2.85"/>
<circle cx="491.5" cy="245.0" r="2.85"/>
<circle cx="494.6" cy="245.0" r="2.85"/>
<circle cx="498.5" cy="245.0" r="2.85"/>
<circle cx="500.0" cy="245.0" r="2.85"/></g>
<path fill="none" stroke="#d5121c" stroke-width="2.3" stroke-linejoin="round" stroke-linecap="round" d="M322.30,57.70 C322.92,56.78 324.97,53.52 326.00,52.20 C327.03,50.88 327.78,50.42 328.50,49.80 C329.22,49.18 329.85,48.75 330.30,48.50 C330.75,48.25 330.88,48.05 331.20,48.30 C331.52,48.55 331.93,49.25 332.20,50.00 C332.47,50.75 332.55,51.13 332.80,52.80 C333.05,54.47 333.43,57.97 333.70,60.00 C333.97,62.03 334.08,63.33 334.40,65.00 C334.72,66.67 335.10,68.33 335.60,70.00 C336.10,71.67 336.75,73.33 337.40,75.00 C338.05,76.67 338.73,78.33 339.50,80.00 C340.27,81.67 341.15,83.33 342.00,85.00 C342.85,86.67 343.70,88.33 344.60,90.00 C345.50,91.67 346.45,93.33 347.40,95.00 C348.35,96.67 349.33,98.33 350.30,100.00 C351.27,101.67 352.23,103.33 353.20,105.00 C354.17,106.67 355.15,108.33 356.10,110.00 C357.05,111.67 358.00,113.33 358.90,115.00 C359.80,116.67 360.63,118.33 361.50,120.00 C362.37,121.67 363.28,123.33 364.10,125.00 C364.92,126.67 365.63,128.33 366.40,130.00 C367.17,131.67 367.98,133.33 368.70,135.00 C369.42,136.67 370.05,138.33 370.70,140.00 C371.35,141.67 371.98,143.33 372.60,145.00 C373.22,146.67 373.83,148.33 374.40,150.00 C374.97,151.67 375.47,153.33 376.00,155.00 C376.53,156.67 377.07,158.33 377.60,160.00 C378.13,161.67 378.67,163.33 379.20,165.00 C379.73,166.67 380.27,168.33 380.80,170.00 C381.33,171.67 381.82,173.33 382.40,175.00 C382.98,176.67 383.67,178.42 384.30,180.00 C384.93,181.58 385.50,183.23 386.20,184.50 C386.90,185.77 387.40,187.37 388.50,187.60 C389.60,187.83 391.27,186.90 392.80,185.90 C394.33,184.90 395.87,182.62 397.70,181.60 C399.53,180.58 401.75,180.00 403.80,179.80 C405.85,179.60 408.33,179.92 410.00,180.40 C411.67,180.88 411.82,180.97 413.80,182.70 C415.78,184.43 419.40,187.53 421.90,190.80 C424.40,194.07 426.68,198.65 428.80,202.30 C430.92,205.95 432.67,209.25 434.60,212.70 C436.53,216.15 438.87,219.80 440.40,223.00 C441.93,226.20 442.45,229.00 443.80,231.90 C445.15,234.80 446.95,238.73 448.50,240.40 C450.05,242.07 451.05,242.55 453.10,241.90 C455.15,241.25 457.98,238.03 460.80,236.50 C463.62,234.97 466.93,233.08 470.00,232.70 C473.07,232.32 476.12,233.18 479.20,234.20 C482.28,235.22 484.90,237.00 488.50,238.80 C492.10,240.60 498.75,243.97 500.80,245.00"/>
<path fill="none" stroke="#d5121c" stroke-width="3.0" stroke-linejoin="round" stroke-linecap="round" d="M322.30,57.70 C322.92,56.78 324.97,53.52 326.00,52.20 C327.03,50.88 327.78,50.42 328.50,49.80 C329.22,49.18 329.85,48.75 330.30,48.50 C330.75,48.25 331.05,48.33 331.20,48.30"/>
<text x="269.8" y="20.8" font-size="26.5" font-weight="bold">b</text>
<g transform="translate(0,345.5)">
<rect x="31.0" y="11.0" width="220.2" height="278.7" fill="none" stroke="#000" stroke-width="2.2"/>
<line x1="49.20" y1="289.7" x2="49.20" y2="283.7" stroke="#000" stroke-width="1.6"/>
<line x1="49.20" y1="11.0" x2="49.20" y2="17.0" stroke="#000" stroke-width="1.6"/>
<line x1="67.54" y1="289.7" x2="67.54" y2="286.5" stroke="#000" stroke-width="1.6"/>
<line x1="67.54" y1="11.0" x2="67.54" y2="14.2" stroke="#000" stroke-width="1.6"/>
<line x1="85.88" y1="289.7" x2="85.88" y2="283.7" stroke="#000" stroke-width="1.6"/>
<line x1="85.88" y1="11.0" x2="85.88" y2="17.0" stroke="#000" stroke-width="1.6"/>
<line x1="104.22" y1="289.7" x2="104.22" y2="286.5" stroke="#000" stroke-width="1.6"/>
<line x1="104.22" y1="11.0" x2="104.22" y2="14.2" stroke="#000" stroke-width="1.6"/>
<line x1="122.56" y1="289.7" x2="122.56" y2="283.7" stroke="#000" stroke-width="1.6"/>
<line x1="122.56" y1="11.0" x2="122.56" y2="17.0" stroke="#000" stroke-width="1.6"/>
<line x1="140.90" y1="289.7" x2="140.90" y2="286.5" stroke="#000" stroke-width="1.6"/>
<line x1="140.90" y1="11.0" x2="140.90" y2="14.2" stroke="#000" stroke-width="1.6"/>
<line x1="159.24" y1="289.7" x2="159.24" y2="283.7" stroke="#000" stroke-width="1.6"/>
<line x1="159.24" y1="11.0" x2="159.24" y2="17.0" stroke="#000" stroke-width="1.6"/>
<line x1="177.58" y1="289.7" x2="177.58" y2="286.5" stroke="#000" stroke-width="1.6"/>
<line x1="177.58" y1="11.0" x2="177.58" y2="14.2" stroke="#000" stroke-width="1.6"/>
<line x1="195.92" y1="289.7" x2="195.92" y2="283.7" stroke="#000" stroke-width="1.6"/>
<line x1="195.92" y1="11.0" x2="195.92" y2="17.0" stroke="#000" stroke-width="1.6"/>
<line x1="214.26" y1="289.7" x2="214.26" y2="286.5" stroke="#000" stroke-width="1.6"/>
<line x1="214.26" y1="11.0" x2="214.26" y2="14.2" stroke="#000" stroke-width="1.6"/>
<line x1="232.60" y1="289.7" x2="232.60" y2="283.7" stroke="#000" stroke-width="1.6"/>
<line x1="232.60" y1="11.0" x2="232.60" y2="17.0" stroke="#000" stroke-width="1.6"/>
<line x1="31.0" y1="289.70" x2="37.5" y2="289.70" stroke="#000" stroke-width="1.3"/>
<line x1="251.2" y1="289.70" x2="244.7" y2="289.70" stroke="#000" stroke-width="1.3"/>
<line x1="31.0" y1="279.21" x2="34.5" y2="279.21" stroke="#000" stroke-width="1.3"/>
<line x1="251.2" y1="279.21" x2="247.7" y2="279.21" stroke="#000" stroke-width="1.3"/>
<line x1="31.0" y1="273.08" x2="34.5" y2="273.08" stroke="#000" stroke-width="1.3"/>
<line x1="251.2" y1="273.08" x2="247.7" y2="273.08" stroke="#000" stroke-width="1.3"/>
<line x1="31.0" y1="268.73" x2="34.5" y2="268.73" stroke="#000" stroke-width="1.3"/>
<line x1="251.2" y1="268.73" x2="247.7" y2="268.73" stroke="#000" stroke-width="1.3"/>
<line x1="31.0" y1="265.35" x2="34.5" y2="265.35" stroke="#000" stroke-width="1.3"/>
<line x1="251.2" y1="265.35" x2="247.7" y2="265.35" stroke="#000" stroke-width="1.3"/>
<line x1="31.0" y1="262.59" x2="34.5" y2="262.59" stroke="#000" stroke-width="1.3"/>
<line x1="251.2" y1="262.59" x2="247.7" y2="262.59" stroke="#000" stroke-width="1.3"/>
<line x1="31.0" y1="260.26" x2="34.5" y2="260.26" stroke="#000" stroke-width="1.3"/>
<line x1="251.2" y1="260.26" x2="247.7" y2="260.26" stroke="#000" stroke-width="1.3"/>
<line x1="31.0" y1="258.24" x2="34.5" y2="258.24" stroke="#000" stroke-width="1.3"/>
<line x1="251.2" y1="258.24" x2="247.7" y2="258.24" stroke="#000" stroke-width="1.3"/>
<line x1="31.0" y1="256.46" x2="34.5" y2="256.46" stroke="#000" stroke-width="1.3"/>
<line x1="251.2" y1="256.46" x2="247.7" y2="256.46" stroke="#000" stroke-width="1.3"/>
<line x1="31.0" y1="254.86" x2="37.5" y2="254.86" stroke="#000" stroke-width="1.3"/>
<line x1="251.2" y1="254.86" x2="244.7" y2="254.86" stroke="#000" stroke-width="1.3"/>
<line x1="31.0" y1="244.38" x2="34.5" y2="244.38" stroke="#000" stroke-width="1.3"/>
<line x1="251.2" y1="244.38" x2="247.7" y2="244.38" stroke="#000" stroke-width="1.3"/>
<line x1="31.0" y1="238.24" x2="34.5" y2="238.24" stroke="#000" stroke-width="1.3"/>
<line x1="251.2" y1="238.24" x2="247.7" y2="238.24" stroke="#000" stroke-width="1.3"/>
<line x1="31.0" y1="233.89" x2="34.5" y2="233.89" stroke="#000" stroke-width="1.3"/>
<line x1="251.2" y1="233.89" x2="247.7" y2="233.89" stroke="#000" stroke-width="1.3"/>
<line x1="31.0" y1="230.51" x2="34.5" y2="230.51" stroke="#000" stroke-width="1.3"/>
<line x1="251.2" y1="230.51" x2="247.7" y2="230.51" stroke="#000" stroke-width="1.3"/>
<line x1="31.0" y1="227.75" x2="34.5" y2="227.75" stroke="#000" stroke-width="1.3"/>
<line x1="251.2" y1="227.75" x2="247.7" y2="227.75" stroke="#000" stroke-width="1.3"/>
<line x1="31.0" y1="225.42" x2="34.5" y2="225.42" stroke="#000" stroke-width="1.3"/>
<line x1="251.2" y1="225.42" x2="247.7" y2="225.42" stroke="#000" stroke-width="1.3"/>
<line x1="31.0" y1="223.40" x2="34.5" y2="223.40" stroke="#000" stroke-width="1.3"/>
<line x1="251.2" y1="223.40" x2="247.7" y2="223.40" stroke="#000" stroke-width="1.3"/>
<line x1="31.0" y1="221.62" x2="34.5" y2="221.62" stroke="#000" stroke-width="1.3"/>
<line x1="251.2" y1="221.62" x2="247.7" y2="221.62" stroke="#000" stroke-width="1.3"/>
<line x1="31.0" y1="220.02" x2="37.5" y2="220.02" stroke="#000" stroke-width="1.3"/>
<line x1="251.2" y1="220.02" x2="244.7" y2="220.02" stroke="#000" stroke-width="1.3"/>
<line x1="31.0" y1="209.54" x2="34.5" y2="209.54" stroke="#000" stroke-width="1.3"/>
<line x1="251.2" y1="209.54" x2="247.7" y2="209.54" stroke="#000" stroke-width="1.3"/>
<line x1="31.0" y1="203.40" x2="34.5" y2="203.40" stroke="#000" stroke-width="1.3"/>
<line x1="251.2" y1="203.40" x2="247.7" y2="203.40" stroke="#000" stroke-width="1.3"/>
<line x1="31.0" y1="199.05" x2="34.5" y2="199.05" stroke="#000" stroke-width="1.3"/>
<line x1="251.2" y1="199.05" x2="247.7" y2="199.05" stroke="#000" stroke-width="1.3"/>
<line x1="31.0" y1="195.67" x2="34.5" y2="195.67" stroke="#000" stroke-width="1.3"/>
<line x1="251.2" y1="195.67" x2="247.7" y2="195.67" stroke="#000" stroke-width="1.3"/>
<line x1="31.0" y1="192.92" x2="34.5" y2="192.92" stroke="#000" stroke-width="1.3"/>
<line x1="251.2" y1="192.92" x2="247.7" y2="192.92" stroke="#000" stroke-width="1.3"/>
<line x1="31.0" y1="190.58" x2="34.5" y2="190.58" stroke="#000" stroke-width="1.3"/>
<line x1="251.2" y1="190.58" x2="247.7" y2="190.58" stroke="#000" stroke-width="1.3"/>
<line x1="31.0" y1="188.56" x2="34.5" y2="188.56" stroke="#000" stroke-width="1.3"/>
<line x1="251.2" y1="188.56" x2="247.7" y2="188.56" stroke="#000" stroke-width="1.3"/>
<line x1="31.0" y1="186.78" x2="34.5" y2="186.78" stroke="#000" stroke-width="1.3"/>
<line x1="251.2" y1="186.78" x2="247.7" y2="186.78" stroke="#000" stroke-width="1.3"/>
<line x1="31.0" y1="185.19" x2="37.5" y2="185.19" stroke="#000" stroke-width="1.3"/>
<line x1="251.2" y1="185.19" x2="244.7" y2="185.19" stroke="#000" stroke-width="1.3"/>
<line x1="31.0" y1="174.70" x2="34.5" y2="174.70" stroke="#000" stroke-width="1.3"/>
<line x1="251.2" y1="174.70" x2="247.7" y2="174.70" stroke="#000" stroke-width="1.3"/>
<line x1="31.0" y1="168.57" x2="34.5" y2="168.57" stroke="#000" stroke-width="1.3"/>
<line x1="251.2" y1="168.57" x2="247.7" y2="168.57" stroke="#000" stroke-width="1.3"/>
<line x1="31.0" y1="164.21" x2="34.5" y2="164.21" stroke="#000" stroke-width="1.3"/>
<line x1="251.2" y1="164.21" x2="247.7" y2="164.21" stroke="#000" stroke-width="1.3"/>
<line x1="31.0" y1="160.84" x2="34.5" y2="160.84" stroke="#000" stroke-width="1.3"/>
<line x1="251.2" y1="160.84" x2="247.7" y2="160.84" stroke="#000" stroke-width="1.3"/>
<line x1="31.0" y1="158.08" x2="34.5" y2="158.08" stroke="#000" stroke-width="1.3"/>
<line x1="251.2" y1="158.08" x2="247.7" y2="158.08" stroke="#000" stroke-width="1.3"/>
<line x1="31.0" y1="155.75" x2="34.5" y2="155.75" stroke="#000" stroke-width="1.3"/>
<line x1="251.2" y1="155.75" x2="247.7" y2="155.75" stroke="#000" stroke-width="1.3"/>
<line x1="31.0" y1="153.73" x2="34.5" y2="153.73" stroke="#000" stroke-width="1.3"/>
<line x1="251.2" y1="153.73" x2="247.7" y2="153.73" stroke="#000" stroke-width="1.3"/>
<line x1="31.0" y1="151.94" x2="34.5" y2="151.94" stroke="#000" stroke-width="1.3"/>
<line x1="251.2" y1="151.94" x2="247.7" y2="151.94" stroke="#000" stroke-width="1.3"/>
<line x1="31.0" y1="150.35" x2="37.5" y2="150.35" stroke="#000" stroke-width="1.3"/>
<line x1="251.2" y1="150.35" x2="244.7" y2="150.35" stroke="#000" stroke-width="1.3"/>
<line x1="31.0" y1="139.86" x2="34.5" y2="139.86" stroke="#000" stroke-width="1.3"/>
<line x1="251.2" y1="139.86" x2="247.7" y2="139.86" stroke="#000" stroke-width="1.3"/>
<line x1="31.0" y1="133.73" x2="34.5" y2="133.73" stroke="#000" stroke-width="1.3"/>
<line x1="251.2" y1="133.73" x2="247.7" y2="133.73" stroke="#000" stroke-width="1.3"/>
<line x1="31.0" y1="129.38" x2="34.5" y2="129.38" stroke="#000" stroke-width="1.3"/>
<line x1="251.2" y1="129.38" x2="247.7" y2="129.38" stroke="#000" stroke-width="1.3"/>
<line x1="31.0" y1="126.00" x2="34.5" y2="126.00" stroke="#000" stroke-width="1.3"/>
<line x1="251.2" y1="126.00" x2="247.7" y2="126.00" stroke="#000" stroke-width="1.3"/>
<line x1="31.0" y1="123.24" x2="34.5" y2="123.24" stroke="#000" stroke-width="1.3"/>
<line x1="251.2" y1="123.24" x2="247.7" y2="123.24" stroke="#000" stroke-width="1.3"/>
<line x1="31.0" y1="120.91" x2="34.5" y2="120.91" stroke="#000" stroke-width="1.3"/>
<line x1="251.2" y1="120.91" x2="247.7" y2="120.91" stroke="#000" stroke-width="1.3"/>
<line x1="31.0" y1="118.89" x2="34.5" y2="118.89" stroke="#000" stroke-width="1.3"/>
<line x1="251.2" y1="118.89" x2="247.7" y2="118.89" stroke="#000" stroke-width="1.3"/>
<line x1="31.0" y1="117.11" x2="34.5" y2="117.11" stroke="#000" stroke-width="1.3"/>
<line x1="251.2" y1="117.11" x2="247.7" y2="117.11" stroke="#000" stroke-width="1.3"/>
<line x1="31.0" y1="115.51" x2="37.5" y2="115.51" stroke="#000" stroke-width="1.3"/>
<line x1="251.2" y1="115.51" x2="244.7" y2="115.51" stroke="#000" stroke-width="1.3"/>
<line x1="31.0" y1="105.03" x2="34.5" y2="105.03" stroke="#000" stroke-width="1.3"/>
<line x1="251.2" y1="105.03" x2="247.7" y2="105.03" stroke="#000" stroke-width="1.3"/>
<line x1="31.0" y1="98.89" x2="34.5" y2="98.89" stroke="#000" stroke-width="1.3"/>
<line x1="251.2" y1="98.89" x2="247.7" y2="98.89" stroke="#000" stroke-width="1.3"/>
<line x1="31.0" y1="94.54" x2="34.5" y2="94.54" stroke="#000" stroke-width="1.3"/>
<line x1="251.2" y1="94.54" x2="247.7" y2="94.54" stroke="#000" stroke-width="1.3"/>
<line x1="31.0" y1="91.16" x2="34.5" y2="91.16" stroke="#000" stroke-width="1.3"/>
<line x1="251.2" y1="91.16" x2="247.7" y2="91.16" stroke="#000" stroke-width="1.3"/>
<line x1="31.0" y1="88.40" x2="34.5" y2="88.40" stroke="#000" stroke-width="1.3"/>
<line x1="251.2" y1="88.40" x2="247.7" y2="88.40" stroke="#000" stroke-width="1.3"/>
<line x1="31.0" y1="86.07" x2="34.5" y2="86.07" stroke="#000" stroke-width="1.3"/>
<line x1="251.2" y1="86.07" x2="247.7" y2="86.07" stroke="#000" stroke-width="1.3"/>
<line x1="31.0" y1="84.05" x2="34.5" y2="84.05" stroke="#000" stroke-width="1.3"/>
<line x1="251.2" y1="84.05" x2="247.7" y2="84.05" stroke="#000" stroke-width="1.3"/>
<line x1="31.0" y1="82.27" x2="34.5" y2="82.27" stroke="#000" stroke-width="1.3"/>
<line x1="251.2" y1="82.27" x2="247.7" y2="82.27" stroke="#000" stroke-width="1.3"/>
<line x1="31.0" y1="80.68" x2="37.5" y2="80.68" stroke="#000" stroke-width="1.3"/>
<line x1="251.2" y1="80.68" x2="244.7" y2="80.68" stroke="#000" stroke-width="1.3"/>
<line x1="31.0" y1="70.19" x2="34.5" y2="70.19" stroke="#000" stroke-width="1.3"/>
<line x1="251.2" y1="70.19" x2="247.7" y2="70.19" stroke="#000" stroke-width="1.3"/>
<line x1="31.0" y1="64.05" x2="34.5" y2="64.05" stroke="#000" stroke-width="1.3"/>
<line x1="251.2" y1="64.05" x2="247.7" y2="64.05" stroke="#000" stroke-width="1.3"/>
<line x1="31.0" y1="59.70" x2="34.5" y2="59.70" stroke="#000" stroke-width="1.3"/>
<line x1="251.2" y1="59.70" x2="247.7" y2="59.70" stroke="#000" stroke-width="1.3"/>
<line x1="31.0" y1="56.32" x2="34.5" y2="56.32" stroke="#000" stroke-width="1.3"/>
<line x1="251.2" y1="56.32" x2="247.7" y2="56.32" stroke="#000" stroke-width="1.3"/>
<line x1="31.0" y1="53.57" x2="34.5" y2="53.57" stroke="#000" stroke-width="1.3"/>
<line x1="251.2" y1="53.57" x2="247.7" y2="53.57" stroke="#000" stroke-width="1.3"/>
<line x1="31.0" y1="51.23" x2="34.5" y2="51.23" stroke="#000" stroke-width="1.3"/>
<line x1="251.2" y1="51.23" x2="247.7" y2="51.23" stroke="#000" stroke-width="1.3"/>
<line x1="31.0" y1="49.21" x2="34.5" y2="49.21" stroke="#000" stroke-width="1.3"/>
<line x1="251.2" y1="49.21" x2="247.7" y2="49.21" stroke="#000" stroke-width="1.3"/>
<line x1="31.0" y1="47.43" x2="34.5" y2="47.43" stroke="#000" stroke-width="1.3"/>
<line x1="251.2" y1="47.43" x2="247.7" y2="47.43" stroke="#000" stroke-width="1.3"/>
<line x1="31.0" y1="45.84" x2="37.5" y2="45.84" stroke="#000" stroke-width="1.3"/>
<line x1="251.2" y1="45.84" x2="244.7" y2="45.84" stroke="#000" stroke-width="1.3"/>
<line x1="31.0" y1="35.35" x2="34.5" y2="35.35" stroke="#000" stroke-width="1.3"/>
<line x1="251.2" y1="35.35" x2="247.7" y2="35.35" stroke="#000" stroke-width="1.3"/>
<line x1="31.0" y1="29.22" x2="34.5" y2="29.22" stroke="#000" stroke-width="1.3"/>
<line x1="251.2" y1="29.22" x2="247.7" y2="29.22" stroke="#000" stroke-width="1.3"/>
<line x1="31.0" y1="24.86" x2="34.5" y2="24.86" stroke="#000" stroke-width="1.3"/>
<line x1="251.2" y1="24.86" x2="247.7" y2="24.86" stroke="#000" stroke-width="1.3"/>
<line x1="31.0" y1="21.49" x2="34.5" y2="21.49" stroke="#000" stroke-width="1.3"/>
<line x1="251.2" y1="21.49" x2="247.7" y2="21.49" stroke="#000" stroke-width="1.3"/>
<line x1="31.0" y1="18.73" x2="34.5" y2="18.73" stroke="#000" stroke-width="1.3"/>
<line x1="251.2" y1="18.73" x2="247.7" y2="18.73" stroke="#000" stroke-width="1.3"/>
<line x1="31.0" y1="16.40" x2="34.5" y2="16.40" stroke="#000" stroke-width="1.3"/>
<line x1="251.2" y1="16.40" x2="247.7" y2="16.40" stroke="#000" stroke-width="1.3"/>
<line x1="31.0" y1="14.38" x2="34.5" y2="14.38" stroke="#000" stroke-width="1.3"/>
<line x1="251.2" y1="14.38" x2="247.7" y2="14.38" stroke="#000" stroke-width="1.3"/>
<line x1="31.0" y1="12.59" x2="34.5" y2="12.59" stroke="#000" stroke-width="1.3"/>
<line x1="251.2" y1="12.59" x2="247.7" y2="12.59" stroke="#000" stroke-width="1.3"/>
<text x="49.20" y="311.3" font-size="18.5" text-anchor="middle">0</text>
<text x="85.88" y="311.3" font-size="18.5" text-anchor="middle">1</text>
<text x="122.56" y="311.3" font-size="18.5" text-anchor="middle">2</text>
<text x="159.24" y="311.3" font-size="18.5" text-anchor="middle">3</text>
<text x="195.92" y="311.3" font-size="18.5" text-anchor="middle">4</text>
<text x="232.60" y="311.3" font-size="18.5" text-anchor="middle">5</text>
<text x="141.1" y="341" font-size="19" text-anchor="middle">2 theta (deg)</text>
<text transform="translate(16,150) rotate(-90)" font-size="18.6" text-anchor="middle">Intensity (a.u.)</text>
<rect x="137.2" y="26.5" width="103" height="33.8" fill="#fff" stroke="#8a8a8a" stroke-width="1"/>
<circle cx="154.2" cy="35.4" r="2.9" fill="none" stroke="#3a3a3a" stroke-width="1.1"/>
<line x1="139.2" y1="51.5" x2="168.5" y2="51.5" stroke="#d5121c" stroke-width="2.2"/>
<text x="173" y="40" font-size="13">Experiment</text>
<text x="173" y="55.3" font-size="13">Fitting</text>
<text x="41.7" y="272.8" font-size="14.5">VO<tspan font-size="10" dy="3">2</tspan><tspan dy="-3">(9.7 nm)/TiO</tspan><tspan font-size="10" dy="3">2</tspan></text>
</g>
<g fill="none" stroke="#333" stroke-width="1.1"><circle cx="56.3" cy="404.6" r="2.85"/>
<circle cx="58.2" cy="401.8" r="2.85"/>
<circle cx="60.1" cy="399.1" r="2.85"/>
<circle cx="62.0" cy="396.6" r="2.85"/>
<circle cx="63.9" cy="394.4" r="2.85"/>
<circle cx="65.8" cy="392.8" r="2.85"/>
<circle cx="67.7" cy="391.3" r="2.85"/>
<circle cx="69.6" cy="391.0" r="2.85"/>
<circle cx="71.8" cy="397.2" r="2.85"/>
<circle cx="72.6" cy="406.5" r="2.85"/>
<circle cx="74.2" cy="412.3" r="2.85"/>
<circle cx="77.1" cy="418.8" r="2.85"/>
<circle cx="78.5" cy="423.7" r="2.85"/>
<circle cx="80.0" cy="429.5" r="2.85"/>
<circle cx="81.5" cy="435.0" r="2.85"/>
<circle cx="82.9" cy="439.6" r="2.85"/>
<circle cx="84.4" cy="443.4" r="2.85"/>
<circle cx="85.9" cy="447.1" r="2.85"/>
<circle cx="87.4" cy="451.1" r="2.85"/>
<circle cx="88.8" cy="454.9" r="2.85"/>
<circle cx="90.3" cy="458.0" r="2.85"/>
<circle cx="91.8" cy="460.7" r="2.85"/>
<circle cx="93.2" cy="463.4" r="2.85"/>
<circle cx="94.7" cy="465.2" r="2.85"/>
<circle cx="96.2" cy="466.8" r="2.85"/>
<circle cx="97.6" cy="468.1" r="2.85"/>
<circle cx="99.1" cy="469.6" r="2.85"/>
<circle cx="100.6" cy="471.6" r="2.85"/>
<circle cx="102.1" cy="473.5" r="2.85"/>
<circle cx="103.5" cy="475.2" r="2.85"/>
<circle cx="105.0" cy="477.5" r="2.85"/>
<circle cx="106.5" cy="480.4" r="2.85"/>
<circle cx="107.9" cy="482.8" r="2.85"/>
<circle cx="109.4" cy="486.1" r="2.85"/>
<circle cx="110.9" cy="489.1" r="2.85"/>
<circle cx="112.3" cy="492.3" r="2.85"/>
<circle cx="113.8" cy="495.7" r="2.85"/>
<circle cx="115.3" cy="498.9" r="2.85"/>
<circle cx="116.8" cy="502.0" r="2.85"/>
<circle cx="118.2" cy="504.7" r="2.85"/>
<circle cx="119.7" cy="507.7" r="2.85"/>
<circle cx="121.2" cy="509.5" r="2.85"/>
<circle cx="122.6" cy="510.9" r="2.85"/>
<circle cx="124.1" cy="512.4" r="2.85"/>
<circle cx="125.6" cy="513.6" r="2.85"/>
<circle cx="127.0" cy="514.6" r="2.85"/>
<circle cx="128.5" cy="515.7" r="2.85"/>
<circle cx="130.0" cy="516.9" r="2.85"/>
<circle cx="131.5" cy="517.8" r="2.85"/>
<circle cx="132.9" cy="518.6" r="2.85"/>
<circle cx="134.4" cy="519.9" r="2.85"/>
<circle cx="135.9" cy="521.3" r="2.85"/>
<circle cx="137.3" cy="523.2" r="2.85"/>
<circle cx="138.8" cy="525.8" r="2.85"/>
<circle cx="140.3" cy="528.9" r="2.85"/>
<circle cx="141.7" cy="532.4" r="2.85"/>
<circle cx="143.2" cy="536.1" r="2.85"/>
<circle cx="144.7" cy="540.8" r="2.85"/>
<circle cx="146.2" cy="545.8" r="2.85"/>
<circle cx="147.6" cy="550.6" r="2.85"/>
<circle cx="116.9" cy="510.2" r="2.85"/>
<circle cx="122.8" cy="508.2" r="2.85"/>
<circle cx="128.6" cy="512.6" r="2.85"/>
<circle cx="130.0" cy="520.1" r="2.85"/>
<circle cx="143.5" cy="542.4" r="2.85"/>
<circle cx="147.5" cy="544.8" r="2.85"/>
<circle cx="145.9" cy="552.7" r="2.85"/>
<circle cx="149.8" cy="551.9" r="2.85"/>
<circle cx="162.1" cy="554.4" r="2.85"/>
<circle cx="150.6" cy="564.0" r="2.85"/>
<circle cx="155.0" cy="561.5" r="2.85"/>
<circle cx="159.2" cy="564.0" r="2.85"/>
<circle cx="158.4" cy="570.8" r="2.85"/>
<circle cx="160.8" cy="565.8" r="2.85"/>
<circle cx="165.8" cy="562.8" r="2.85"/>
<circle cx="164.5" cy="574.5" r="2.85"/>
<circle cx="167.5" cy="574.5" r="2.85"/>
<circle cx="171.0" cy="574.5" r="2.85"/>
<circle cx="174.5" cy="574.5" r="2.85"/>
<circle cx="163.9" cy="579.5" r="2.85"/>
<circle cx="194.0" cy="574.4" r="2.85"/>
<circle cx="182.3" cy="580.8" r="2.85"/>
<circle cx="188.5" cy="580.8" r="2.85"/>
<circle cx="196.9" cy="580.8" r="2.85"/>
<circle cx="170.8" cy="591.5" r="2.85"/>
<circle cx="173.8" cy="591.5" r="2.85"/>
<circle cx="178.5" cy="591.5" r="2.85"/>
<circle cx="190.8" cy="591.5" r="2.85"/>
<circle cx="198.5" cy="591.5" r="2.85"/>
<circle cx="200.8" cy="591.5" r="2.85"/>
<circle cx="204.6" cy="591.5" r="2.85"/>
<circle cx="211.5" cy="591.5" r="2.85"/>
<circle cx="217.7" cy="591.5" r="2.85"/>
<circle cx="227.7" cy="591.5" r="2.85"/>
<circle cx="232.3" cy="591.5" r="2.85"/></g>
<path fill="none" stroke="#d5121c" stroke-width="2.3" stroke-linejoin="round" stroke-linecap="round" d="M56.30,404.00 C56.82,403.33 58.27,401.48 59.40,400.00 C60.53,398.52 61.77,396.50 63.10,395.10 C64.43,393.70 66.28,392.25 67.40,391.60 C68.52,390.95 69.18,390.42 69.80,391.20 C70.42,391.98 70.68,394.12 71.10,396.30 C71.52,398.48 71.77,402.02 72.30,404.30 C72.83,406.58 73.55,407.72 74.30,410.00 C75.05,412.28 75.98,415.33 76.80,418.00 C77.62,420.67 78.48,423.33 79.20,426.00 C79.92,428.67 80.45,431.67 81.10,434.00 C81.75,436.33 82.25,437.67 83.10,440.00 C83.95,442.33 85.18,445.33 86.20,448.00 C87.22,450.67 87.98,453.33 89.20,456.00 C90.42,458.67 91.83,461.70 93.50,464.00 C95.17,466.30 97.42,467.80 99.20,469.80 C100.98,471.80 102.65,473.63 104.20,476.00 C105.75,478.37 107.17,481.33 108.50,484.00 C109.83,486.67 111.23,489.83 112.20,492.00 C113.17,494.17 113.52,495.30 114.30,497.00 C115.08,498.70 115.95,500.32 116.90,502.20 C117.85,504.08 118.67,506.47 120.00,508.30 C121.33,510.13 123.23,511.77 124.90,513.20 C126.57,514.63 128.57,515.93 130.00,516.90 C131.43,517.87 132.45,518.20 133.50,519.00 C134.55,519.80 135.47,520.70 136.30,521.70 C137.13,522.70 137.83,523.80 138.50,525.00 C139.17,526.20 139.47,526.93 140.30,528.90 C141.13,530.87 142.57,534.15 143.50,536.80 C144.43,539.45 145.10,542.15 145.90,544.80 C146.70,547.45 147.65,550.18 148.30,552.70 C148.95,555.22 149.25,557.60 149.80,559.90 C150.35,562.20 150.93,564.52 151.60,566.50 C152.27,568.48 152.98,571.50 153.80,571.80 C154.62,572.10 155.33,569.80 156.50,568.30 C157.67,566.80 159.35,564.18 160.80,562.80 C162.25,561.42 163.97,560.52 165.20,560.00 C166.43,559.48 167.28,559.23 168.20,559.70 C169.12,560.17 169.87,561.27 170.70,562.80 C171.53,564.33 172.48,566.95 173.20,568.90 C173.92,570.85 174.00,570.85 175.00,574.50 C176.00,578.15 177.85,585.52 179.20,590.80 C180.55,596.08 182.07,602.53 183.10,606.20 C184.13,609.87 184.50,613.07 185.40,612.80 C186.30,612.53 187.22,607.77 188.50,604.60 C189.78,601.43 191.32,596.37 193.10,593.80 C194.88,591.23 197.15,589.32 199.20,589.20 C201.25,589.08 203.35,591.30 205.40,593.10 C207.45,594.90 209.45,598.22 211.50,600.00 C213.55,601.78 215.38,603.17 217.70,603.80 C220.02,604.43 222.97,603.67 225.40,603.80 C227.83,603.93 231.15,604.47 232.30,604.60"/>
<path fill="none" stroke="#d5121c" stroke-width="3.0" stroke-linejoin="round" stroke-linecap="round" d="M56.30,404.00 C56.82,403.33 58.27,401.48 59.40,400.00 C60.53,398.52 61.77,396.50 63.10,395.10 C64.43,393.70 66.28,392.25 67.40,391.60 C68.52,390.95 69.40,391.27 69.80,391.20"/>
<text x="3.5" y="368.8" font-size="26.5" font-weight="bold">c</text>
<g transform="translate(266.3,345.5)">
<rect x="31.0" y="11.0" width="220.2" height="278.7" fill="none" stroke="#000" stroke-width="2.2"/>
<line x1="49.20" y1="289.7" x2="49.20" y2="283.7" stroke="#000" stroke-width="1.6"/>
<line x1="49.20" y1="11.0" x2="49.20" y2="17.0" stroke="#000" stroke-width="1.6"/>
<line x1="67.54" y1="289.7" x2="67.54" y2="286.5" stroke="#000" stroke-width="1.6"/>
<line x1="67.54" y1="11.0" x2="67.54" y2="14.2" stroke="#000" stroke-width="1.6"/>
<line x1="85.88" y1="289.7" x2="85.88" y2="283.7" stroke="#000" stroke-width="1.6"/>
<line x1="85.88" y1="11.0" x2="85.88" y2="17.0" stroke="#000" stroke-width="1.6"/>
<line x1="104.22" y1="289.7" x2="104.22" y2="286.5" stroke="#000" stroke-width="1.6"/>
<line x1="104.22" y1="11.0" x2="104.22" y2="14.2" stroke="#000" stroke-width="1.6"/>
<line x1="122.56" y1="289.7" x2="122.56" y2="283.7" stroke="#000" stroke-width="1.6"/>
<line x1="122.56" y1="11.0" x2="122.56" y2="17.0" stroke="#000" stroke-width="1.6"/>
<line x1="140.90" y1="289.7" x2="140.90" y2="286.5" stroke="#000" stroke-width="1.6"/>
<line x1="140.90" y1="11.0" x2="140.90" y2="14.2" stroke="#000" stroke-width="1.6"/>
<line x1="159.24" y1="289.7" x2="159.24" y2="283.7" stroke="#000" stroke-width="1.6"/>
<line x1="159.24" y1="11.0" x2="159.24" y2="17.0" stroke="#000" stroke-width="1.6"/>
<line x1="177.58" y1="289.7" x2="177.58" y2="286.5" stroke="#000" stroke-width="1.6"/>
<line x1="177.58" y1="11.0" x2="177.58" y2="14.2" stroke="#000" stroke-width="1.6"/>
<line x1="195.92" y1="289.7" x2="195.92" y2="283.7" stroke="#000" stroke-width="1.6"/>
<line x1="195.92" y1="11.0" x2="195.92" y2="17.0" stroke="#000" stroke-width="1.6"/>
<line x1="214.26" y1="289.7" x2="214.26" y2="286.5" stroke="#000" stroke-width="1.6"/>
<line x1="214.26" y1="11.0" x2="214.26" y2="14.2" stroke="#000" stroke-width="1.6"/>
<line x1="232.60" y1="289.7" x2="232.60" y2="283.7" stroke="#000" stroke-width="1.6"/>
<line x1="232.60" y1="11.0" x2="232.60" y2="17.0" stroke="#000" stroke-width="1.6"/>
<line x1="31.0" y1="289.70" x2="37.5" y2="289.70" stroke="#000" stroke-width="1.3"/>
<line x1="251.2" y1="289.70" x2="244.7" y2="289.70" stroke="#000" stroke-width="1.3"/>
<line x1="31.0" y1="279.21" x2="34.5" y2="279.21" stroke="#000" stroke-width="1.3"/>
<line x1="251.2" y1="279.21" x2="247.7" y2="279.21" stroke="#000" stroke-width="1.3"/>
<line x1="31.0" y1="273.08" x2="34.5" y2="273.08" stroke="#000" stroke-width="1.3"/>
<line x1="251.2" y1="273.08" x2="247.7" y2="273.08" stroke="#000" stroke-width="1.3"/>
<line x1="31.0" y1="268.73" x2="34.5" y2="268.73" stroke="#000" stroke-width="1.3"/>
<line x1="251.2" y1="268.73" x2="247.7" y2="268.73" stroke="#000" stroke-width="1.3"/>
<line x1="31.0" y1="265.35" x2="34.5" y2="265.35" stroke="#000" stroke-width="1.3"/>
<line x1="251.2" y1="265.35" x2="247.7" y2="265.35" stroke="#000" stroke-width="1.3"/>
<line x1="31.0" y1="262.59" x2="34.5" y2="262.59" stroke="#000" stroke-width="1.3"/>
<line x1="251.2" y1="262.59" x2="247.7" y2="262.59" stroke="#000" stroke-width="1.3"/>
<line x1="31.0" y1="260.26" x2="34.5" y2="260.26" stroke="#000" stroke-width="1.3"/>
<line x1="251.2" y1="260.26" x2="247.7" y2="260.26" stroke="#000" stroke-width="1.3"/>
<line x1="31.0" y1="258.24" x2="34.5" y2="258.24" stroke="#000" stroke-width="1.3"/>
<line x1="251.2" y1="258.24" x2="247.7" y2="258.24" stroke="#000" stroke-width="1.3"/>
<line x1="31.0" y1="256.46" x2="34.5" y2="256.46" stroke="#000" stroke-width="1.3"/>
<line x1="251.2" y1="256.46" x2="247.7" y2="256.46" stroke="#000" stroke-width="1.3"/>
<line x1="31.0" y1="254.86" x2="37.5" y2="254.86" stroke="#000" stroke-width="1.3"/>
<line x1="251.2" y1="254.86" x2="244.7" y2="254.86" stroke="#000" stroke-width="1.3"/>
<line x1="31.0" y1="244.38" x2="34.5" y2="244.38" stroke="#000" stroke-width="1.3"/>
<line x1="251.2" y1="244.38" x2="247.7" y2="244.38" stroke="#000" stroke-width="1.3"/>
<line x1="31.0" y1="238.24" x2="34.5" y2="238.24" stroke="#000" stroke-width="1.3"/>
<line x1="251.2" y1="238.24" x2="247.7" y2="238.24" stroke="#000" stroke-width="1.3"/>
<line x1="31.0" y1="233.89" x2="34.5" y2="233.89" stroke="#000" stroke-width="1.3"/>
<line x1="251.2" y1="233.89" x2="247.7" y2="233.89" stroke="#000" stroke-width="1.3"/>
<line x1="31.0" y1="230.51" x2="34.5" y2="230.51" stroke="#000" stroke-width="1.3"/>
<line x1="251.2" y1="230.51" x2="247.7" y2="230.51" stroke="#000" stroke-width="1.3"/>
<line x1="31.0" y1="227.75" x2="34.5" y2="227.75" stroke="#000" stroke-width="1.3"/>
<line x1="251.2" y1="227.75" x2="247.7" y2="227.75" stroke="#000" stroke-width="1.3"/>
<line x1="31.0" y1="225.42" x2="34.5" y2="225.42" stroke="#000" stroke-width="1.3"/>
<line x1="251.2" y1="225.42" x2="247.7" y2="225.42" stroke="#000" stroke-width="1.3"/>
<line x1="31.0" y1="223.40" x2="34.5" y2="223.40" stroke="#000" stroke-width="1.3"/>
<line x1="251.2" y1="223.40" x2="247.7" y2="223.40" stroke="#000" stroke-width="1.3"/>
<line x1="31.0" y1="221.62" x2="34.5" y2="221.62" stroke="#000" stroke-width="1.3"/>
<line x1="251.2" y1="221.62" x2="247.7" y2="221.62" stroke="#000" stroke-width="1.3"/>
<line x1="31.0" y1="220.02" x2="37.5" y2="220.02" stroke="#000" stroke-width="1.3"/>
<line x1="251.2" y1="220.02" x2="244.7" y2="220.02" stroke="#000" stroke-width="1.3"/>
<line x1="31.0" y1="209.54" x2="34.5" y2="209.54" stroke="#000" stroke-width="1.3"/>
<line x1="251.2" y1="209.54" x2="247.7" y2="209.54" stroke="#000" stroke-width="1.3"/>
<line x1="31.0" y1="203.40" x2="34.5" y2="203.40" stroke="#000" stroke-width="1.3"/>
<line x1="251.2" y1="203.40" x2="247.7" y2="203.40" stroke="#000" stroke-width="1.3"/>
<line x1="31.0" y1="199.05" x2="34.5" y2="199.05" stroke="#000" stroke-width="1.3"/>
<line x1="251.2" y1="199.05" x2="247.7" y2="199.05" stroke="#000" stroke-width="1.3"/>
<line x1="31.0" y1="195.67" x2="34.5" y2="195.67" stroke="#000" stroke-width="1.3"/>
<line x1="251.2" y1="195.67" x2="247.7" y2="195.67" stroke="#000" stroke-width="1.3"/>
<line x1="31.0" y1="192.92" x2="34.5" y2="192.92" stroke="#000" stroke-width="1.3"/>
<line x1="251.2" y1="192.92" x2="247.7" y2="192.92" stroke="#000" stroke-width="1.3"/>
<line x1="31.0" y1="190.58" x2="34.5" y2="190.58" stroke="#000" stroke-width="1.3"/>
<line x1="251.2" y1="190.58" x2="247.7" y2="190.58" stroke="#000" stroke-width="1.3"/>
<line x1="31.0" y1="188.56" x2="34.5" y2="188.56" stroke="#000" stroke-width="1.3"/>
<line x1="251.2" y1="188.56" x2="247.7" y2="188.56" stroke="#000" stroke-width="1.3"/>
<line x1="31.0" y1="186.78" x2="34.5" y2="186.78" stroke="#000" stroke-width="1.3"/>
<line x1="251.2" y1="186.78" x2="247.7" y2="186.78" stroke="#000" stroke-width="1.3"/>
<line x1="31.0" y1="185.19" x2="37.5" y2="185.19" stroke="#000" stroke-width="1.3"/>
<line x1="251.2" y1="185.19" x2="244.7" y2="185.19" stroke="#000" stroke-width="1.3"/>
<line x1="31.0" y1="174.70" x2="34.5" y2="174.70" stroke="#000" stroke-width="1.3"/>
<line x1="251.2" y1="174.70" x2="247.7" y2="174.70" stroke="#000" stroke-width="1.3"/>
<line x1="31.0" y1="168.57" x2="34.5" y2="168.57" stroke="#000" stroke-width="1.3"/>
<line x1="251.2" y1="168.57" x2="247.7" y2="168.57" stroke="#000" stroke-width="1.3"/>
<line x1="31.0" y1="164.21" x2="34.5" y2="164.21" stroke="#000" stroke-width="1.3"/>
<line x1="251.2" y1="164.21" x2="247.7" y2="164.21" stroke="#000" stroke-width="1.3"/>
<line x1="31.0" y1="160.84" x2="34.5" y2="160.84" stroke="#000" stroke-width="1.3"/>
<line x1="251.2" y1="160.84" x2="247.7" y2="160.84" stroke="#000" stroke-width="1.3"/>
<line x1="31.0" y1="158.08" x2="34.5" y2="158.08" stroke="#000" stroke-width="1.3"/>
<line x1="251.2" y1="158.08" x2="247.7" y2="158.08" stroke="#000" stroke-width="1.3"/>
<line x1="31.0" y1="155.75" x2="34.5" y2="155.75" stroke="#000" stroke-width="1.3"/>
<line x1="251.2" y1="155.75" x2="247.7" y2="155.75" stroke="#000" stroke-width="1.3"/>
<line x1="31.0" y1="153.73" x2="34.5" y2="153.73" stroke="#000" stroke-width="1.3"/>
<line x1="251.2" y1="153.73" x2="247.7" y2="153.73" stroke="#000" stroke-width="1.3"/>
<line x1="31.0" y1="151.94" x2="34.5" y2="151.94" stroke="#000" stroke-width="1.3"/>
<line x1="251.2" y1="151.94" x2="247.7" y2="151.94" stroke="#000" stroke-width="1.3"/>
<line x1="31.0" y1="150.35" x2="37.5" y2="150.35" stroke="#000" stroke-width="1.3"/>
<line x1="251.2" y1="150.35" x2="244.7" y2="150.35" stroke="#000" stroke-width="1.3"/>
<line x1="31.0" y1="139.86" x2="34.5" y2="139.86" stroke="#000" stroke-width="1.3"/>
<line x1="251.2" y1="139.86" x2="247.7" y2="139.86" stroke="#000" stroke-width="1.3"/>
<line x1="31.0" y1="133.73" x2="34.5" y2="133.73" stroke="#000" stroke-width="1.3"/>
<line x1="251.2" y1="133.73" x2="247.7" y2="133.73" stroke="#000" stroke-width="1.3"/>
<line x1="31.0" y1="129.38" x2="34.5" y2="129.38" stroke="#000" stroke-width="1.3"/>
<line x1="251.2" y1="129.38" x2="247.7" y2="129.38" stroke="#000" stroke-width="1.3"/>
<line x1="31.0" y1="126.00" x2="34.5" y2="126.00" stroke="#000" stroke-width="1.3"/>
<line x1="251.2" y1="126.00" x2="247.7" y2="126.00" stroke="#000" stroke-width="1.3"/>
<line x1="31.0" y1="123.24" x2="34.5" y2="123.24" stroke="#000" stroke-width="1.3"/>
<line x1="251.2" y1="123.24" x2="247.7" y2="123.24" stroke="#000" stroke-width="1.3"/>
<line x1="31.0" y1="120.91" x2="34.5" y2="120.91" stroke="#000" stroke-width="1.3"/>
<line x1="251.2" y1="120.91" x2="247.7" y2="120.91" stroke="#000" stroke-width="1.3"/>
<line x1="31.0" y1="118.89" x2="34.5" y2="118.89" stroke="#000" stroke-width="1.3"/>
<line x1="251.2" y1="118.89" x2="247.7" y2="118.89" stroke="#000" stroke-width="1.3"/>
<line x1="31.0" y1="117.11" x2="34.5" y2="117.11" stroke="#000" stroke-width="1.3"/>
<line x1="251.2" y1="117.11" x2="247.7" y2="117.11" stroke="#000" stroke-width="1.3"/>
<line x1="31.0" y1="115.51" x2="37.5" y2="115.51" stroke="#000" stroke-width="1.3"/>
<line x1="251.2" y1="115.51" x2="244.7" y2="115.51" stroke="#000" stroke-width="1.3"/>
<line x1="31.0" y1="105.03" x2="34.5" y2="105.03" stroke="#000" stroke-width="1.3"/>
<line x1="251.2" y1="105.03" x2="247.7" y2="105.03" stroke="#000" stroke-width="1.3"/>
<line x1="31.0" y1="98.89" x2="34.5" y2="98.89" stroke="#000" stroke-width="1.3"/>
<line x1="251.2" y1="98.89" x2="247.7" y2="98.89" stroke="#000" stroke-width="1.3"/>
<line x1="31.0" y1="94.54" x2="34.5" y2="94.54" stroke="#000" stroke-width="1.3"/>
<line x1="251.2" y1="94.54" x2="247.7" y2="94.54" stroke="#000" stroke-width="1.3"/>
<line x1="31.0" y1="91.16" x2="34.5" y2="91.16" stroke="#000" stroke-width="1.3"/>
<line x1="251.2" y1="91.16" x2="247.7" y2="91.16" stroke="#000" stroke-width="1.3"/>
<line x1="31.0" y1="88.40" x2="34.5" y2="88.40" stroke="#000" stroke-width="1.3"/>
<line x1="251.2" y1="88.40" x2="247.7" y2="88.40" stroke="#000" stroke-width="1.3"/>
<line x1="31.0" y1="86.07" x2="34.5" y2="86.07" stroke="#000" stroke-width="1.3"/>
<line x1="251.2" y1="86.07" x2="247.7" y2="86.07" stroke="#000" stroke-width="1.3"/>
<line x1="31.0" y1="84.05" x2="34.5" y2="84.05" stroke="#000" stroke-width="1.3"/>
<line x1="251.2" y1="84.05" x2="247.7" y2="84.05" stroke="#000" stroke-width="1.3"/>
<line x1="31.0" y1="82.27" x2="34.5" y2="82.27" stroke="#000" stroke-width="1.3"/>
<line x1="251.2" y1="82.27" x2="247.7" y2="82.27" stroke="#000" stroke-width="1.3"/>
<line x1="31.0" y1="80.68" x2="37.5" y2="80.68" stroke="#000" stroke-width="1.3"/>
<line x1="251.2" y1="80.68" x2="244.7" y2="80.68" stroke="#000" stroke-width="1.3"/>
<line x1="31.0" y1="70.19" x2="34.5" y2="70.19" stroke="#000" stroke-width="1.3"/>
<line x1="251.2" y1="70.19" x2="247.7" y2="70.19" stroke="#000" stroke-width="1.3"/>
<line x1="31.0" y1="64.05" x2="34.5" y2="64.05" stroke="#000" stroke-width="1.3"/>
<line x1="251.2" y1="64.05" x2="247.7" y2="64.05" stroke="#000" stroke-width="1.3"/>
<line x1="31.0" y1="59.70" x2="34.5" y2="59.70" stroke="#000" stroke-width="1.3"/>
<line x1="251.2" y1="59.70" x2="247.7" y2="59.70" stroke="#000" stroke-width="1.3"/>
<line x1="31.0" y1="56.32" x2="34.5" y2="56.32" stroke="#000" stroke-width="1.3"/>
<line x1="251.2" y1="56.32" x2="247.7" y2="56.32" stroke="#000" stroke-width="1.3"/>
<line x1="31.0" y1="53.57" x2="34.5" y2="53.57" stroke="#000" stroke-width="1.3"/>
<line x1="251.2" y1="53.57" x2="247.7" y2="53.57" stroke="#000" stroke-width="1.3"/>
<line x1="31.0" y1="51.23" x2="34.5" y2="51.23" stroke="#000" stroke-width="1.3"/>
<line x1="251.2" y1="51.23" x2="247.7" y2="51.23" stroke="#000" stroke-width="1.3"/>
<line x1="31.0" y1="49.21" x2="34.5" y2="49.21" stroke="#000" stroke-width="1.3"/>
<line x1="251.2" y1="49.21" x2="247.7" y2="49.21" stroke="#000" stroke-width="1.3"/>
<line x1="31.0" y1="47.43" x2="34.5" y2="47.43" stroke="#000" stroke-width="1.3"/>
<line x1="251.2" y1="47.43" x2="247.7" y2="47.43" stroke="#000" stroke-width="1.3"/>
<line x1="31.0" y1="45.84" x2="37.5" y2="45.84" stroke="#000" stroke-width="1.3"/>
<line x1="251.2" y1="45.84" x2="244.7" y2="45.84" stroke="#000" stroke-width="1.3"/>
<line x1="31.0" y1="35.35" x2="34.5" y2="35.35" stroke="#000" stroke-width="1.3"/>
<line x1="251.2" y1="35.35" x2="247.7" y2="35.35" stroke="#000" stroke-width="1.3"/>
<line x1="31.0" y1="29.22" x2="34.5" y2="29.22" stroke="#000" stroke-width="1.3"/>
<line x1="251.2" y1="29.22" x2="247.7" y2="29.22" stroke="#000" stroke-width="1.3"/>
<line x1="31.0" y1="24.86" x2="34.5" y2="24.86" stroke="#000" stroke-width="1.3"/>
<line x1="251.2" y1="24.86" x2="247.7" y2="24.86" stroke="#000" stroke-width="1.3"/>
<line x1="31.0" y1="21.49" x2="34.5" y2="21.49" stroke="#000" stroke-width="1.3"/>
<line x1="251.2" y1="21.49" x2="247.7" y2="21.49" stroke="#000" stroke-width="1.3"/>
<line x1="31.0" y1="18.73" x2="34.5" y2="18.73" stroke="#000" stroke-width="1.3"/>
<line x1="251.2" y1="18.73" x2="247.7" y2="18.73" stroke="#000" stroke-width="1.3"/>
<line x1="31.0" y1="16.40" x2="34.5" y2="16.40" stroke="#000" stroke-width="1.3"/>
<line x1="251.2" y1="16.40" x2="247.7" y2="16.40" stroke="#000" stroke-width="1.3"/>
<line x1="31.0" y1="14.38" x2="34.5" y2="14.38" stroke="#000" stroke-width="1.3"/>
<line x1="251.2" y1="14.38" x2="247.7" y2="14.38" stroke="#000" stroke-width="1.3"/>
<line x1="31.0" y1="12.59" x2="34.5" y2="12.59" stroke="#000" stroke-width="1.3"/>
<line x1="251.2" y1="12.59" x2="247.7" y2="12.59" stroke="#000" stroke-width="1.3"/>
<text x="49.20" y="311.3" font-size="18.5" text-anchor="middle">0</text>
<text x="85.88" y="311.3" font-size="18.5" text-anchor="middle">1</text>
<text x="122.56" y="311.3" font-size="18.5" text-anchor="middle">2</text>
<text x="159.24" y="311.3" font-size="18.5" text-anchor="middle">3</text>
<text x="195.92" y="311.3" font-size="18.5" text-anchor="middle">4</text>
<text x="232.60" y="311.3" font-size="18.5" text-anchor="middle">5</text>
<text x="141.1" y="341" font-size="19" text-anchor="middle">2 theta (deg)</text>
<text transform="translate(16,150) rotate(-90)" font-size="18.6" text-anchor="middle">Intensity (a.u.)</text>
<rect x="137.2" y="26.5" width="103" height="33.8" fill="#fff" stroke="#8a8a8a" stroke-width="1"/>
<circle cx="154.2" cy="35.4" r="2.9" fill="none" stroke="#3a3a3a" stroke-width="1.1"/>
<line x1="139.2" y1="51.5" x2="168.5" y2="51.5" stroke="#d5121c" stroke-width="2.2"/>
<text x="173" y="40" font-size="13">Experiment</text>
<text x="173" y="55.3" font-size="13">Fitting</text>
<text x="41.7" y="272.8" font-size="14.5">VO<tspan font-size="10" dy="3">2</tspan><tspan dy="-3">(17.9 nm)/TiO</tspan><tspan font-size="10" dy="3">2</tspan></text>
</g>
<g fill="none" stroke="#333" stroke-width="1.1"><circle cx="322.0" cy="404.3" r="2.85"/>
<circle cx="323.9" cy="401.4" r="2.85"/>
<circle cx="325.8" cy="398.5" r="2.85"/>
<circle cx="327.7" cy="396.2" r="2.85"/>
<circle cx="329.6" cy="394.0" r="2.85"/>
<circle cx="331.5" cy="392.4" r="2.85"/>
<circle cx="333.4" cy="391.3" r="2.85"/>
<circle cx="335.3" cy="390.7" r="2.85"/>
<circle cx="337.7" cy="395.7" r="2.85"/>
<circle cx="338.3" cy="403.7" r="2.85"/>
<circle cx="339.8" cy="412.3" r="2.85"/>
<circle cx="341.5" cy="420.6" r="2.85"/>
<circle cx="342.8" cy="427.7" r="2.85"/>
<circle cx="344.0" cy="428.8" r="2.85"/>
<circle cx="345.5" cy="432.5" r="2.85"/>
<circle cx="346.9" cy="436.1" r="2.85"/>
<circle cx="348.4" cy="438.7" r="2.85"/>
<circle cx="349.9" cy="441.7" r="2.85"/>
<circle cx="351.4" cy="446.6" r="2.85"/>
<circle cx="352.8" cy="451.5" r="2.85"/>
<circle cx="354.3" cy="456.1" r="2.85"/>
<circle cx="355.8" cy="460.0" r="2.85"/>
<circle cx="357.2" cy="463.9" r="2.85"/>
<circle cx="358.7" cy="465.4" r="2.85"/>
<circle cx="360.2" cy="467.1" r="2.85"/>
<circle cx="361.6" cy="468.3" r="2.85"/>
<circle cx="363.1" cy="469.2" r="2.85"/>
<circle cx="364.6" cy="470.1" r="2.85"/>
<circle cx="366.1" cy="470.8" r="2.85"/>
<circle cx="367.5" cy="472.9" r="2.85"/>
<circle cx="369.0" cy="475.3" r="2.85"/>
<circle cx="370.5" cy="478.2" r="2.85"/>
<circle cx="371.9" cy="481.8" r="2.85"/>
<circle cx="373.4" cy="485.2" r="2.85"/>
<circle cx="374.9" cy="488.6" r="2.85"/>
<circle cx="376.3" cy="491.5" r="2.85"/>
<circle cx="377.8" cy="492.5" r="2.85"/>
<circle cx="379.3" cy="493.2" r="2.85"/>
<circle cx="380.8" cy="493.6" r="2.85"/>
<circle cx="382.2" cy="493.8" r="2.85"/>
<circle cx="383.7" cy="494.7" r="2.85"/>
<circle cx="385.2" cy="496.5" r="2.85"/>
<circle cx="386.6" cy="500.6" r="2.85"/>
<circle cx="388.1" cy="503.9" r="2.85"/>
<circle cx="389.6" cy="508.3" r="2.85"/>
<circle cx="391.0" cy="513.8" r="2.85"/>
<circle cx="392.5" cy="518.3" r="2.85"/>
<circle cx="394.0" cy="521.6" r="2.85"/>
<circle cx="395.5" cy="522.6" r="2.85"/>
<circle cx="396.9" cy="520.4" r="2.85"/>
<circle cx="398.4" cy="518.4" r="2.85"/>
<circle cx="399.9" cy="517.3" r="2.85"/>
<circle cx="401.3" cy="517.5" r="2.85"/>
<circle cx="402.8" cy="518.5" r="2.85"/>
<circle cx="382.9" cy="492.5" r="2.85"/>
<circle cx="389.2" cy="514.7" r="2.85"/>
<circle cx="391.4" cy="520.0" r="2.85"/>
<circle cx="396.8" cy="523.8" r="2.85"/>
<circle cx="401.1" cy="522.8" r="2.85"/>
<circle cx="403.2" cy="527.6" r="2.85"/>
<circle cx="405.9" cy="531.9" r="2.85"/>
<circle cx="408.9" cy="531.6" r="2.85"/>
<circle cx="412.6" cy="542.1" r="2.85"/>
<circle cx="419.4" cy="543.9" r="2.85"/>
<circle cx="421.8" cy="539.6" r="2.85"/>
<circle cx="408.3" cy="545.8" r="2.85"/>
<circle cx="414.4" cy="543.5" r="2.85"/>
<circle cx="419.0" cy="545.8" r="2.85"/>
<circle cx="421.9" cy="551.5" r="2.85"/>
<circle cx="423.6" cy="556.7" r="2.85"/>
<circle cx="426.0" cy="556.7" r="2.85"/>
<circle cx="425.4" cy="563.1" r="2.85"/>
<circle cx="430.6" cy="563.1" r="2.85"/>
<circle cx="435.2" cy="567.7" r="2.85"/>
<circle cx="433.4" cy="573.4" r="2.85"/>
<circle cx="438.1" cy="553.3" r="2.85"/>
<circle cx="439.2" cy="563.1" r="2.85"/>
<circle cx="446.1" cy="567.7" r="2.85"/>
<circle cx="451.3" cy="573.4" r="2.85"/>
<circle cx="457.7" cy="573.4" r="2.85"/>
<circle cx="427.7" cy="583.2" r="2.85"/>
<circle cx="436.9" cy="583.2" r="2.85"/>
<circle cx="441.5" cy="583.2" r="2.85"/>
<circle cx="445.6" cy="583.2" r="2.85"/>
<circle cx="456.5" cy="583.2" r="2.85"/>
<circle cx="458.8" cy="584.2" r="2.85"/>
<circle cx="466.5" cy="584.2" r="2.85"/>
<circle cx="469.6" cy="584.2" r="2.85"/>
<circle cx="478.1" cy="584.2" r="2.85"/>
<circle cx="481.2" cy="584.2" r="2.85"/>
<circle cx="485.8" cy="584.2" r="2.85"/>
<circle cx="488.1" cy="584.2" r="2.85"/>
<circle cx="491.2" cy="584.2" r="2.85"/>
<circle cx="494.2" cy="584.2" r="2.85"/>
<circle cx="498.8" cy="584.2" r="2.85"/>
<circle cx="458.8" cy="574.2" r="2.85"/>
<circle cx="462.7" cy="574.2" r="2.85"/>
<circle cx="472.7" cy="574.2" r="2.85"/>
<circle cx="477.3" cy="574.2" r="2.85"/>
<circle cx="465.8" cy="567.3" r="2.85"/></g>
<path fill="none" stroke="#d5121c" stroke-width="2.3" stroke-linejoin="round" stroke-linecap="round" d="M322.00,403.60 C322.67,402.67 324.62,399.67 326.00,398.00 C327.38,396.33 329.05,394.67 330.30,393.60 C331.55,392.53 332.68,391.98 333.50,391.60 C334.32,391.22 334.60,390.52 335.20,391.30 C335.80,392.08 336.58,394.13 337.10,396.30 C337.62,398.47 337.72,401.68 338.30,404.30 C338.88,406.92 339.95,409.38 340.60,412.00 C341.25,414.62 341.68,417.33 342.20,420.00 C342.72,422.67 342.93,425.33 343.70,428.00 C344.47,430.67 345.87,434.00 346.80,436.00 C347.73,438.00 348.47,438.00 349.30,440.00 C350.13,442.00 350.98,445.33 351.80,448.00 C352.62,450.67 353.28,453.33 354.20,456.00 C355.12,458.67 356.25,462.08 357.30,464.00 C358.35,465.92 359.47,466.58 360.50,467.50 C361.53,468.42 362.53,468.92 363.50,469.50 C364.47,470.08 365.22,469.73 366.30,471.00 C367.38,472.27 368.87,474.85 370.00,477.10 C371.13,479.35 372.07,482.10 373.10,484.50 C374.13,486.90 375.13,490.00 376.20,491.50 C377.27,493.00 378.45,493.12 379.50,493.50 C380.55,493.88 381.62,493.47 382.50,493.80 C383.38,494.13 384.02,494.08 384.80,495.50 C385.58,496.92 386.55,500.72 387.20,502.30 C387.85,503.88 388.10,503.20 388.70,505.00 C389.30,506.80 390.00,510.40 390.80,513.10 C391.60,515.80 392.77,519.58 393.50,521.20 C394.23,522.82 394.48,523.17 395.20,522.80 C395.92,522.43 396.92,520.00 397.80,519.00 C398.68,518.00 399.60,516.80 400.50,516.80 C401.40,516.80 402.38,517.83 403.20,519.00 C404.02,520.17 404.68,522.00 405.40,523.80 C406.12,525.60 406.97,527.93 407.50,529.80 C408.03,531.67 408.27,532.85 408.60,535.00 C408.93,537.15 409.20,540.52 409.50,542.70 C409.80,544.88 409.97,546.30 410.40,548.10 C410.83,549.90 411.42,553.68 412.10,553.50 C412.78,553.32 413.70,549.12 414.50,547.00 C415.30,544.88 415.98,542.23 416.90,540.80 C417.82,539.37 418.97,538.40 420.00,538.40 C421.03,538.40 422.28,539.37 423.10,540.80 C423.92,542.23 424.33,543.87 424.90,547.00 C425.47,550.13 425.98,553.27 426.50,559.60 C427.02,565.93 427.48,577.10 428.00,585.00 C428.52,592.90 428.68,608.92 429.60,607.00 C430.52,605.08 432.08,581.65 433.50,573.50 C434.92,565.35 436.57,557.33 438.10,558.10 C439.63,558.87 441.03,570.53 442.70,578.10 C444.37,585.67 446.43,602.48 448.10,603.50 C449.77,604.52 451.17,589.08 452.70,584.20 C454.23,579.32 455.77,574.45 457.30,574.20 C458.83,573.95 460.37,579.10 461.90,582.70 C463.43,586.30 464.95,594.52 466.50,595.80 C468.05,597.08 469.78,591.95 471.20,590.40 C472.62,588.85 473.47,586.25 475.00,586.50 C476.53,586.75 478.73,590.35 480.40,591.90 C482.07,593.45 483.20,595.53 485.00,595.80 C486.80,596.07 489.02,593.50 491.20,593.50 C493.38,593.50 496.95,595.42 498.10,595.80"/>
<path fill="none" stroke="#d5121c" stroke-width="3.0" stroke-linejoin="round" stroke-linecap="round" d="M322.00,403.60 C322.67,402.67 324.62,399.67 326.00,398.00 C327.38,396.33 329.05,394.67 330.30,393.60 C331.55,392.53 332.68,391.98 333.50,391.60 C334.32,391.22 334.92,391.35 335.20,391.30"/>
<text x="269.8" y="368.8" font-size="26.5" font-weight="bold">d</text>
</svg>
</body></html>
